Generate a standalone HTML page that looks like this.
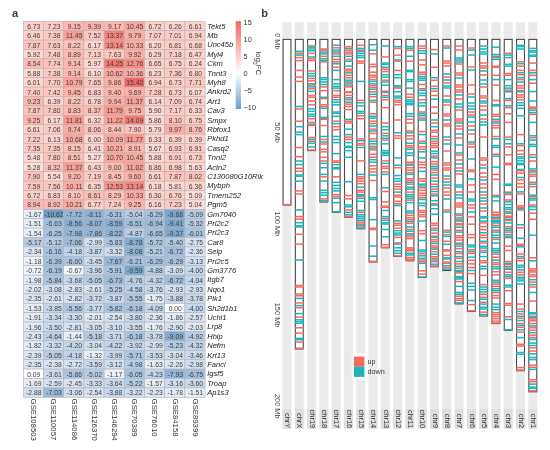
<!DOCTYPE html><html><head><meta charset="utf-8"><style>html,body{margin:0;padding:0;background:#fff;width:550px;height:450px;overflow:hidden}svg{display:block;font-family:"Liberation Sans",sans-serif;filter:blur(0.35px)}</style></head><body>
<svg width="550" height="450" viewBox="0 0 550 450">
<rect width="550" height="450" fill="#fff"/>
<text x="12.0" y="17.2" font-size="11.2" font-weight="bold" fill="#3a3a3a">a</text>
<text x="261.2" y="17.2" font-size="11" font-weight="bold" fill="#3a3a3a">b</text>
<g stroke="#b4b2bc" stroke-width="0.6">
<rect x="23.30" y="21.30" width="20.20" height="9.40" fill="#ffcfc8"/>
<rect x="43.50" y="21.30" width="20.20" height="9.40" fill="#ffcac2"/>
<rect x="63.70" y="21.30" width="20.20" height="9.40" fill="#ffb6ac"/>
<rect x="83.90" y="21.30" width="20.20" height="9.40" fill="#ffb3a9"/>
<rect x="104.10" y="21.30" width="20.20" height="9.40" fill="#ffb6ac"/>
<rect x="124.30" y="21.30" width="20.20" height="9.40" fill="#fda79c"/>
<rect x="144.50" y="21.30" width="20.20" height="9.40" fill="#ffcfc8"/>
<rect x="164.70" y="21.30" width="20.20" height="9.40" fill="#ffd3cd"/>
<rect x="184.90" y="21.30" width="20.20" height="9.40" fill="#ffd0c9"/>
<rect x="23.30" y="30.70" width="20.20" height="9.40" fill="#ffd1cb"/>
<rect x="43.50" y="30.70" width="20.20" height="9.40" fill="#ffc8c0"/>
<rect x="63.70" y="30.70" width="20.20" height="9.40" fill="#fb9c90"/>
<rect x="83.90" y="30.70" width="20.20" height="9.40" fill="#ffc7bf"/>
<rect x="104.10" y="30.70" width="20.20" height="9.40" fill="#f58478"/>
<rect x="124.30" y="30.70" width="20.20" height="9.40" fill="#feafa4"/>
<rect x="144.50" y="30.70" width="20.20" height="9.40" fill="#ffcbc4"/>
<rect x="164.70" y="30.70" width="20.20" height="9.40" fill="#ffccc5"/>
<rect x="184.90" y="30.70" width="20.20" height="9.40" fill="#ffcdc5"/>
<rect x="23.30" y="40.10" width="20.20" height="9.40" fill="#ffc3bb"/>
<rect x="43.50" y="40.10" width="20.20" height="9.40" fill="#ffc6be"/>
<rect x="63.70" y="40.10" width="20.20" height="9.40" fill="#ffc0b7"/>
<rect x="83.90" y="40.10" width="20.20" height="9.40" fill="#ffd4ce"/>
<rect x="104.10" y="40.10" width="20.20" height="9.40" fill="#f6877b"/>
<rect x="124.30" y="40.10" width="20.20" height="9.40" fill="#fda99e"/>
<rect x="144.50" y="40.10" width="20.20" height="9.40" fill="#ffd4cd"/>
<rect x="164.70" y="40.10" width="20.20" height="9.40" fill="#ffcec7"/>
<rect x="184.90" y="40.10" width="20.20" height="9.40" fill="#ffcfc8"/>
<rect x="23.30" y="49.50" width="20.20" height="9.40" fill="#ffd6d0"/>
<rect x="43.50" y="49.50" width="20.20" height="9.40" fill="#ffc7bf"/>
<rect x="63.70" y="49.50" width="20.20" height="9.40" fill="#ffb9af"/>
<rect x="83.90" y="49.50" width="20.20" height="9.40" fill="#ffcbc3"/>
<rect x="104.10" y="49.50" width="20.20" height="9.40" fill="#ffc6be"/>
<rect x="124.30" y="49.50" width="20.20" height="9.40" fill="#feada3"/>
<rect x="144.50" y="49.50" width="20.20" height="9.40" fill="#ffd3cc"/>
<rect x="164.70" y="49.50" width="20.20" height="9.40" fill="#ffcac3"/>
<rect x="184.90" y="49.50" width="20.20" height="9.40" fill="#ffd1ca"/>
<rect x="23.30" y="58.90" width="20.20" height="9.40" fill="#ffbcb3"/>
<rect x="43.50" y="58.90" width="20.20" height="9.40" fill="#ffc5bc"/>
<rect x="63.70" y="58.90" width="20.20" height="9.40" fill="#ffb6ac"/>
<rect x="83.90" y="58.90" width="20.20" height="9.40" fill="#ffd6d0"/>
<rect x="104.10" y="58.90" width="20.20" height="9.40" fill="#f2786d"/>
<rect x="124.30" y="58.90" width="20.20" height="9.40" fill="#f78c80"/>
<rect x="144.50" y="58.90" width="20.20" height="9.40" fill="#ffcfc8"/>
<rect x="164.70" y="58.90" width="20.20" height="9.40" fill="#ffcfc7"/>
<rect x="184.90" y="58.90" width="20.20" height="9.40" fill="#ffd3cd"/>
<rect x="23.30" y="68.30" width="20.20" height="9.40" fill="#ffd7d1"/>
<rect x="43.50" y="68.30" width="20.20" height="9.40" fill="#ffc8c0"/>
<rect x="63.70" y="68.30" width="20.20" height="9.40" fill="#ffb6ac"/>
<rect x="83.90" y="68.30" width="20.20" height="9.40" fill="#ffd5ce"/>
<rect x="104.10" y="68.30" width="20.20" height="9.40" fill="#fda59a"/>
<rect x="124.30" y="68.30" width="20.20" height="9.40" fill="#fda89e"/>
<rect x="144.50" y="68.30" width="20.20" height="9.40" fill="#ffd4cd"/>
<rect x="164.70" y="68.30" width="20.20" height="9.40" fill="#ffc9c1"/>
<rect x="184.90" y="68.30" width="20.20" height="9.40" fill="#ffcec7"/>
<rect x="23.30" y="77.70" width="20.20" height="9.40" fill="#ffd6cf"/>
<rect x="43.50" y="77.70" width="20.20" height="9.40" fill="#ffc5bd"/>
<rect x="63.70" y="77.70" width="20.20" height="9.40" fill="#fca398"/>
<rect x="83.90" y="77.70" width="20.20" height="9.40" fill="#ffc6bd"/>
<rect x="104.10" y="77.70" width="20.20" height="9.40" fill="#feaea4"/>
<rect x="124.30" y="77.70" width="20.20" height="9.40" fill="#ee685e"/>
<rect x="144.50" y="77.70" width="20.20" height="9.40" fill="#ffcdc5"/>
<rect x="164.70" y="77.70" width="20.20" height="9.40" fill="#ffcfc8"/>
<rect x="184.90" y="77.70" width="20.20" height="9.40" fill="#ffc5bd"/>
<rect x="23.30" y="87.10" width="20.20" height="9.40" fill="#ffc8c0"/>
<rect x="43.50" y="87.10" width="20.20" height="9.40" fill="#ffc8c0"/>
<rect x="63.70" y="87.10" width="20.20" height="9.40" fill="#ffb3a9"/>
<rect x="83.90" y="87.10" width="20.20" height="9.40" fill="#ffcec7"/>
<rect x="104.10" y="87.10" width="20.20" height="9.40" fill="#ffb3a9"/>
<rect x="124.30" y="87.10" width="20.20" height="9.40" fill="#feb0a6"/>
<rect x="144.50" y="87.10" width="20.20" height="9.40" fill="#ffc9c2"/>
<rect x="164.70" y="87.10" width="20.20" height="9.40" fill="#ffcfc8"/>
<rect x="184.90" y="87.10" width="20.20" height="9.40" fill="#ffd5cf"/>
<rect x="23.30" y="96.50" width="20.20" height="9.40" fill="#ffb5ab"/>
<rect x="43.50" y="96.50" width="20.20" height="9.40" fill="#ffd2cb"/>
<rect x="63.70" y="96.50" width="20.20" height="9.40" fill="#ffc0b7"/>
<rect x="83.90" y="96.50" width="20.20" height="9.40" fill="#ffcec7"/>
<rect x="104.10" y="96.50" width="20.20" height="9.40" fill="#feada3"/>
<rect x="124.30" y="96.50" width="20.20" height="9.40" fill="#fb9d91"/>
<rect x="144.50" y="96.50" width="20.20" height="9.40" fill="#ffd4ce"/>
<rect x="164.70" y="96.50" width="20.20" height="9.40" fill="#ffcbc4"/>
<rect x="184.90" y="96.50" width="20.20" height="9.40" fill="#ffcfc7"/>
<rect x="23.30" y="105.90" width="20.20" height="9.40" fill="#ffc3bb"/>
<rect x="43.50" y="105.90" width="20.20" height="9.40" fill="#ffc4bc"/>
<rect x="63.70" y="105.90" width="20.20" height="9.40" fill="#ffb9b0"/>
<rect x="83.90" y="105.90" width="20.20" height="9.40" fill="#ffbeb5"/>
<rect x="104.10" y="105.90" width="20.20" height="9.40" fill="#fa988c"/>
<rect x="124.30" y="105.90" width="20.20" height="9.40" fill="#feafa5"/>
<rect x="144.50" y="105.90" width="20.20" height="9.40" fill="#ffd7d0"/>
<rect x="164.70" y="105.90" width="20.20" height="9.40" fill="#ffcac3"/>
<rect x="184.90" y="105.90" width="20.20" height="9.40" fill="#ffd3cc"/>
<rect x="23.30" y="115.30" width="20.20" height="9.40" fill="#ffb5ab"/>
<rect x="43.50" y="115.30" width="20.20" height="9.40" fill="#ffd4ce"/>
<rect x="63.70" y="115.30" width="20.20" height="9.40" fill="#fa978c"/>
<rect x="83.90" y="115.30" width="20.20" height="9.40" fill="#ffd3cc"/>
<rect x="104.10" y="115.30" width="20.20" height="9.40" fill="#fb9e93"/>
<rect x="124.30" y="115.30" width="20.20" height="9.40" fill="#f37a6f"/>
<rect x="144.50" y="115.30" width="20.20" height="9.40" fill="#ffd7d1"/>
<rect x="164.70" y="115.30" width="20.20" height="9.40" fill="#ffc1b8"/>
<rect x="184.90" y="115.30" width="20.20" height="9.40" fill="#ffcfc7"/>
<rect x="23.30" y="124.70" width="20.20" height="9.40" fill="#ffd0c9"/>
<rect x="43.50" y="124.70" width="20.20" height="9.40" fill="#ffccc4"/>
<rect x="63.70" y="124.70" width="20.20" height="9.40" fill="#feafa5"/>
<rect x="83.90" y="124.70" width="20.20" height="9.40" fill="#ffc1b9"/>
<rect x="104.10" y="124.70" width="20.20" height="9.40" fill="#ffbdb4"/>
<rect x="124.30" y="124.70" width="20.20" height="9.40" fill="#ffc3bb"/>
<rect x="144.50" y="124.70" width="20.20" height="9.40" fill="#ffd8d2"/>
<rect x="164.70" y="124.70" width="20.20" height="9.40" fill="#feada2"/>
<rect x="184.90" y="124.70" width="20.20" height="9.40" fill="#ffbab1"/>
<rect x="23.30" y="134.10" width="20.20" height="9.40" fill="#ffcac2"/>
<rect x="43.50" y="134.10" width="20.20" height="9.40" fill="#ffd4ce"/>
<rect x="63.70" y="134.10" width="20.20" height="9.40" fill="#fca59a"/>
<rect x="83.90" y="134.10" width="20.20" height="9.40" fill="#ffd6cf"/>
<rect x="104.10" y="134.10" width="20.20" height="9.40" fill="#fdaba1"/>
<rect x="124.30" y="134.10" width="20.20" height="9.40" fill="#fa988c"/>
<rect x="144.50" y="134.10" width="20.20" height="9.40" fill="#ffd3cc"/>
<rect x="164.70" y="134.10" width="20.20" height="9.40" fill="#ffd2cb"/>
<rect x="184.90" y="134.10" width="20.20" height="9.40" fill="#ffd2cb"/>
<rect x="23.30" y="143.50" width="20.20" height="9.40" fill="#ffc9c1"/>
<rect x="43.50" y="143.50" width="20.20" height="9.40" fill="#ffc9c1"/>
<rect x="63.70" y="143.50" width="20.20" height="9.40" fill="#ffc0b8"/>
<rect x="83.90" y="143.50" width="20.20" height="9.40" fill="#ffd2cb"/>
<rect x="104.10" y="143.50" width="20.20" height="9.40" fill="#fdaa9f"/>
<rect x="124.30" y="143.50" width="20.20" height="9.40" fill="#ffb8af"/>
<rect x="144.50" y="143.50" width="20.20" height="9.40" fill="#ffd9d3"/>
<rect x="164.70" y="143.50" width="20.20" height="9.40" fill="#ffcdc5"/>
<rect x="184.90" y="143.50" width="20.20" height="9.40" fill="#ffcdc6"/>
<rect x="23.30" y="152.90" width="20.20" height="9.40" fill="#ffdad5"/>
<rect x="43.50" y="152.90" width="20.20" height="9.40" fill="#ffc4bc"/>
<rect x="63.70" y="152.90" width="20.20" height="9.40" fill="#ffbdb4"/>
<rect x="83.90" y="152.90" width="20.20" height="9.40" fill="#ffdcd7"/>
<rect x="104.10" y="152.90" width="20.20" height="9.40" fill="#fca599"/>
<rect x="124.30" y="152.90" width="20.20" height="9.40" fill="#fda79c"/>
<rect x="144.50" y="152.90" width="20.20" height="9.40" fill="#ffd7d1"/>
<rect x="164.70" y="152.90" width="20.20" height="9.40" fill="#ffcdc6"/>
<rect x="184.90" y="152.90" width="20.20" height="9.40" fill="#ffcfc8"/>
<rect x="23.30" y="162.30" width="20.20" height="9.40" fill="#ffdcd7"/>
<rect x="43.50" y="162.30" width="20.20" height="9.40" fill="#ffbfb6"/>
<rect x="63.70" y="162.30" width="20.20" height="9.40" fill="#fb9d91"/>
<rect x="83.90" y="162.30" width="20.20" height="9.40" fill="#ffd2cb"/>
<rect x="104.10" y="162.30" width="20.20" height="9.40" fill="#ffb7ae"/>
<rect x="124.30" y="162.30" width="20.20" height="9.40" fill="#fca196"/>
<rect x="144.50" y="162.30" width="20.20" height="9.40" fill="#ffcdc6"/>
<rect x="164.70" y="162.30" width="20.20" height="9.40" fill="#ffccc5"/>
<rect x="184.90" y="162.30" width="20.20" height="9.40" fill="#ffd9d3"/>
<rect x="23.30" y="171.70" width="20.20" height="9.40" fill="#ffc3bb"/>
<rect x="43.50" y="171.70" width="20.20" height="9.40" fill="#ffdad4"/>
<rect x="63.70" y="171.70" width="20.20" height="9.40" fill="#ffb5ab"/>
<rect x="83.90" y="171.70" width="20.20" height="9.40" fill="#ffcac3"/>
<rect x="104.10" y="171.70" width="20.20" height="9.40" fill="#ffbdb4"/>
<rect x="124.30" y="171.70" width="20.20" height="9.40" fill="#feb1a7"/>
<rect x="144.50" y="171.70" width="20.20" height="9.40" fill="#ffd0c9"/>
<rect x="164.70" y="171.70" width="20.20" height="9.40" fill="#ffc3bb"/>
<rect x="184.90" y="171.70" width="20.20" height="9.40" fill="#ffc2b9"/>
<rect x="23.30" y="181.10" width="20.20" height="9.40" fill="#ffc6be"/>
<rect x="43.50" y="181.10" width="20.20" height="9.40" fill="#ffc7be"/>
<rect x="63.70" y="181.10" width="20.20" height="9.40" fill="#fdaba1"/>
<rect x="83.90" y="181.10" width="20.20" height="9.40" fill="#ffd2cc"/>
<rect x="104.10" y="181.10" width="20.20" height="9.40" fill="#f88f83"/>
<rect x="124.30" y="181.10" width="20.20" height="9.40" fill="#f6877b"/>
<rect x="144.50" y="181.10" width="20.20" height="9.40" fill="#ffd4ce"/>
<rect x="164.70" y="181.10" width="20.20" height="9.40" fill="#ffd7d1"/>
<rect x="184.90" y="181.10" width="20.20" height="9.40" fill="#ffd2cc"/>
<rect x="23.30" y="190.50" width="20.20" height="9.40" fill="#ffcfc8"/>
<rect x="43.50" y="190.50" width="20.20" height="9.40" fill="#ffcec7"/>
<rect x="63.70" y="190.50" width="20.20" height="9.40" fill="#ffc1b8"/>
<rect x="83.90" y="190.50" width="20.20" height="9.40" fill="#ffbcb2"/>
<rect x="104.10" y="190.50" width="20.20" height="9.40" fill="#ffbfb6"/>
<rect x="124.30" y="190.50" width="20.20" height="9.40" fill="#fda99e"/>
<rect x="144.50" y="190.50" width="20.20" height="9.40" fill="#ffd3cc"/>
<rect x="164.70" y="190.50" width="20.20" height="9.40" fill="#ffcec7"/>
<rect x="184.90" y="190.50" width="20.20" height="9.40" fill="#ffded9"/>
<rect x="23.30" y="199.90" width="20.20" height="9.40" fill="#ffb8af"/>
<rect x="43.50" y="199.90" width="20.20" height="9.40" fill="#ffb8af"/>
<rect x="63.70" y="199.90" width="20.20" height="9.40" fill="#fdaa9f"/>
<rect x="83.90" y="199.90" width="20.20" height="9.40" fill="#ffcec7"/>
<rect x="104.10" y="199.90" width="20.20" height="9.40" fill="#ffcac2"/>
<rect x="124.30" y="199.90" width="20.20" height="9.40" fill="#ffb5ab"/>
<rect x="144.50" y="199.90" width="20.20" height="9.40" fill="#ffd4ce"/>
<rect x="164.70" y="199.90" width="20.20" height="9.40" fill="#ffcac2"/>
<rect x="184.90" y="199.90" width="20.20" height="9.40" fill="#ffded9"/>
<rect x="23.30" y="209.30" width="20.20" height="9.40" fill="#e4ecf5"/>
<rect x="43.50" y="209.30" width="20.20" height="9.40" fill="#6c9ec8"/>
<rect x="63.70" y="209.30" width="20.20" height="9.40" fill="#93b5d6"/>
<rect x="83.90" y="209.30" width="20.20" height="9.40" fill="#8eb2d4"/>
<rect x="104.10" y="209.30" width="20.20" height="9.40" fill="#a5c1dd"/>
<rect x="124.30" y="209.30" width="20.20" height="9.40" fill="#b6cce3"/>
<rect x="144.50" y="209.30" width="20.20" height="9.40" fill="#a6c1dd"/>
<rect x="164.70" y="209.30" width="20.20" height="9.40" fill="#79a5cc"/>
<rect x="184.90" y="209.30" width="20.20" height="9.40" fill="#b5cce3"/>
<rect x="23.30" y="218.70" width="20.20" height="9.40" fill="#e6eef5"/>
<rect x="43.50" y="218.70" width="20.20" height="9.40" fill="#a1bedb"/>
<rect x="63.70" y="218.70" width="20.20" height="9.40" fill="#88aed2"/>
<rect x="83.90" y="218.70" width="20.20" height="9.40" fill="#8eb2d4"/>
<rect x="104.10" y="218.70" width="20.20" height="9.40" fill="#87aed2"/>
<rect x="124.30" y="218.70" width="20.20" height="9.40" fill="#a3bfdc"/>
<rect x="144.50" y="218.70" width="20.20" height="9.40" fill="#9dbcd9"/>
<rect x="164.70" y="218.70" width="20.20" height="9.40" fill="#7da8ce"/>
<rect x="184.90" y="218.70" width="20.20" height="9.40" fill="#b2cae1"/>
<rect x="23.30" y="228.10" width="20.20" height="9.40" fill="#e6edf5"/>
<rect x="43.50" y="228.10" width="20.20" height="9.40" fill="#a6c2dd"/>
<rect x="63.70" y="228.10" width="20.20" height="9.40" fill="#90b3d4"/>
<rect x="83.90" y="228.10" width="20.20" height="9.40" fill="#91b4d5"/>
<rect x="104.10" y="228.10" width="20.20" height="9.40" fill="#8cb1d3"/>
<rect x="124.30" y="228.10" width="20.20" height="9.40" fill="#b8cee4"/>
<rect x="144.50" y="228.10" width="20.20" height="9.40" fill="#a1bedb"/>
<rect x="164.70" y="228.10" width="20.20" height="9.40" fill="#7da8ce"/>
<rect x="184.90" y="228.10" width="20.20" height="9.40" fill="#a9c4de"/>
<rect x="23.30" y="237.50" width="20.20" height="9.40" fill="#b4cbe2"/>
<rect x="43.50" y="237.50" width="20.20" height="9.40" fill="#b5cce2"/>
<rect x="63.70" y="237.50" width="20.20" height="9.40" fill="#9cbbd9"/>
<rect x="83.90" y="237.50" width="20.20" height="9.40" fill="#d2dfed"/>
<rect x="104.10" y="237.50" width="20.20" height="9.40" fill="#acc5df"/>
<rect x="124.30" y="237.50" width="20.20" height="9.40" fill="#85add1"/>
<rect x="144.50" y="237.50" width="20.20" height="9.40" fill="#adc6df"/>
<rect x="164.70" y="237.50" width="20.20" height="9.40" fill="#b1c9e1"/>
<rect x="184.90" y="237.50" width="20.20" height="9.40" fill="#d5e1ef"/>
<rect x="23.30" y="246.90" width="20.20" height="9.40" fill="#dbe5f1"/>
<rect x="43.50" y="246.90" width="20.20" height="9.40" fill="#a7c2dd"/>
<rect x="63.70" y="246.90" width="20.20" height="9.40" fill="#c1d4e7"/>
<rect x="83.90" y="246.90" width="20.20" height="9.40" fill="#c6d7e9"/>
<rect x="104.10" y="246.90" width="20.20" height="9.40" fill="#cddcec"/>
<rect x="124.30" y="246.90" width="20.20" height="9.40" fill="#8eb2d4"/>
<rect x="144.50" y="246.90" width="20.20" height="9.40" fill="#b4cbe2"/>
<rect x="164.70" y="246.90" width="20.20" height="9.40" fill="#a0bedb"/>
<rect x="184.90" y="246.90" width="20.20" height="9.40" fill="#dae5f1"/>
<rect x="23.30" y="256.30" width="20.20" height="9.40" fill="#ebf1f7"/>
<rect x="43.50" y="256.30" width="20.20" height="9.40" fill="#a4c1dc"/>
<rect x="63.70" y="256.30" width="20.20" height="9.40" fill="#a9c4de"/>
<rect x="83.90" y="256.30" width="20.20" height="9.40" fill="#cbdbeb"/>
<rect x="104.10" y="256.30" width="20.20" height="9.40" fill="#94b6d6"/>
<rect x="124.30" y="256.30" width="20.20" height="9.40" fill="#a7c2dd"/>
<rect x="144.50" y="256.30" width="20.20" height="9.40" fill="#a6c1dd"/>
<rect x="164.70" y="256.30" width="20.20" height="9.40" fill="#a6c1dd"/>
<rect x="184.90" y="256.30" width="20.20" height="9.40" fill="#d0deed"/>
<rect x="23.30" y="265.70" width="20.20" height="9.40" fill="#f2f6fa"/>
<rect x="43.50" y="265.70" width="20.20" height="9.40" fill="#a7c2dd"/>
<rect x="63.70" y="265.70" width="20.20" height="9.40" fill="#f3f7fa"/>
<rect x="83.90" y="265.70" width="20.20" height="9.40" fill="#c4d6e8"/>
<rect x="104.10" y="265.70" width="20.20" height="9.40" fill="#abc5df"/>
<rect x="124.30" y="265.70" width="20.20" height="9.40" fill="#7aa6cd"/>
<rect x="144.50" y="265.70" width="20.20" height="9.40" fill="#b8cee4"/>
<rect x="164.70" y="265.70" width="20.20" height="9.40" fill="#d0deed"/>
<rect x="184.90" y="265.70" width="20.20" height="9.40" fill="#c4d6e8"/>
<rect x="23.30" y="275.10" width="20.20" height="9.40" fill="#e0e9f3"/>
<rect x="43.50" y="275.10" width="20.20" height="9.40" fill="#acc5df"/>
<rect x="63.70" y="275.10" width="20.20" height="9.40" fill="#c8d9ea"/>
<rect x="83.90" y="275.10" width="20.20" height="9.40" fill="#b6cce3"/>
<rect x="104.10" y="275.10" width="20.20" height="9.40" fill="#a0beda"/>
<rect x="124.30" y="275.10" width="20.20" height="9.40" fill="#bacfe4"/>
<rect x="144.50" y="275.10" width="20.20" height="9.40" fill="#c0d3e6"/>
<rect x="164.70" y="275.10" width="20.20" height="9.40" fill="#a0bedb"/>
<rect x="184.90" y="275.10" width="20.20" height="9.40" fill="#c3d5e8"/>
<rect x="23.30" y="284.50" width="20.20" height="9.40" fill="#dfe8f3"/>
<rect x="43.50" y="284.50" width="20.20" height="9.40" fill="#d0deed"/>
<rect x="63.70" y="284.50" width="20.20" height="9.40" fill="#d4e1ee"/>
<rect x="83.90" y="284.50" width="20.20" height="9.40" fill="#d7e3ef"/>
<rect x="104.10" y="284.50" width="20.20" height="9.40" fill="#b3cae2"/>
<rect x="124.30" y="284.50" width="20.20" height="9.40" fill="#bcd0e5"/>
<rect x="144.50" y="284.50" width="20.20" height="9.40" fill="#c7d8e9"/>
<rect x="164.70" y="284.50" width="20.20" height="9.40" fill="#d2e0ee"/>
<rect x="184.90" y="284.50" width="20.20" height="9.40" fill="#d2e0ee"/>
<rect x="23.30" y="293.90" width="20.20" height="9.40" fill="#dae5f1"/>
<rect x="43.50" y="293.90" width="20.20" height="9.40" fill="#d7e3ef"/>
<rect x="63.70" y="293.90" width="20.20" height="9.40" fill="#d4e1ee"/>
<rect x="83.90" y="293.90" width="20.20" height="9.40" fill="#c8d8ea"/>
<rect x="104.10" y="293.90" width="20.20" height="9.40" fill="#c6d7e9"/>
<rect x="124.30" y="293.90" width="20.20" height="9.40" fill="#afc8e0"/>
<rect x="144.50" y="293.90" width="20.20" height="9.40" fill="#e3ebf4"/>
<rect x="164.70" y="293.90" width="20.20" height="9.40" fill="#c5d7e9"/>
<rect x="184.90" y="293.90" width="20.20" height="9.40" fill="#c7d8e9"/>
<rect x="23.30" y="303.30" width="20.20" height="9.40" fill="#e6edf5"/>
<rect x="43.50" y="303.30" width="20.20" height="9.40" fill="#c6d7e9"/>
<rect x="63.70" y="303.30" width="20.20" height="9.40" fill="#afc8e0"/>
<rect x="83.90" y="303.30" width="20.20" height="9.40" fill="#c7d8e9"/>
<rect x="104.10" y="303.30" width="20.20" height="9.40" fill="#acc5df"/>
<rect x="124.30" y="303.30" width="20.20" height="9.40" fill="#a7c2dd"/>
<rect x="144.50" y="303.30" width="20.20" height="9.40" fill="#c3d5e8"/>
<rect x="164.70" y="303.30" width="20.20" height="9.40" fill="#ffffff"/>
<rect x="184.90" y="303.30" width="20.20" height="9.40" fill="#c4d6e8"/>
<rect x="23.30" y="312.70" width="20.20" height="9.40" fill="#e1eaf3"/>
<rect x="43.50" y="312.70" width="20.20" height="9.40" fill="#cddcec"/>
<rect x="63.70" y="312.70" width="20.20" height="9.40" fill="#cddcec"/>
<rect x="83.90" y="312.70" width="20.20" height="9.40" fill="#dfe9f3"/>
<rect x="104.10" y="312.70" width="20.20" height="9.40" fill="#d8e3f0"/>
<rect x="124.30" y="312.70" width="20.20" height="9.40" fill="#c7d7e9"/>
<rect x="144.50" y="312.70" width="20.20" height="9.40" fill="#dae5f1"/>
<rect x="164.70" y="312.70" width="20.20" height="9.40" fill="#e1eaf4"/>
<rect x="184.90" y="312.70" width="20.20" height="9.40" fill="#d7e3f0"/>
<rect x="23.30" y="322.10" width="20.20" height="9.40" fill="#e0e9f3"/>
<rect x="43.50" y="322.10" width="20.20" height="9.40" fill="#cbdaeb"/>
<rect x="63.70" y="322.10" width="20.20" height="9.40" fill="#d4e1ee"/>
<rect x="83.90" y="322.10" width="20.20" height="9.40" fill="#d1deed"/>
<rect x="104.10" y="322.10" width="20.20" height="9.40" fill="#d0deed"/>
<rect x="124.30" y="322.10" width="20.20" height="9.40" fill="#cadaea"/>
<rect x="144.50" y="322.10" width="20.20" height="9.40" fill="#e3ebf4"/>
<rect x="164.70" y="322.10" width="20.20" height="9.40" fill="#d3e0ee"/>
<rect x="184.90" y="322.10" width="20.20" height="9.40" fill="#dfe8f3"/>
<rect x="23.30" y="331.50" width="20.20" height="9.40" fill="#d9e4f0"/>
<rect x="43.50" y="331.50" width="20.20" height="9.40" fill="#bbd0e5"/>
<rect x="63.70" y="331.50" width="20.20" height="9.40" fill="#e7eef6"/>
<rect x="83.90" y="331.50" width="20.20" height="9.40" fill="#b4cbe2"/>
<rect x="104.10" y="331.50" width="20.20" height="9.40" fill="#c8d8ea"/>
<rect x="124.30" y="331.50" width="20.20" height="9.40" fill="#a7c2dd"/>
<rect x="144.50" y="331.50" width="20.20" height="9.40" fill="#c7d8e9"/>
<rect x="164.70" y="331.50" width="20.20" height="9.40" fill="#81aacf"/>
<rect x="184.90" y="331.50" width="20.20" height="9.40" fill="#b8cde3"/>
<rect x="23.30" y="340.90" width="20.20" height="9.40" fill="#e2eaf4"/>
<rect x="43.50" y="340.90" width="20.20" height="9.40" fill="#cddcec"/>
<rect x="63.70" y="340.90" width="20.20" height="9.40" fill="#c1d4e7"/>
<rect x="83.90" y="340.90" width="20.20" height="9.40" fill="#d1dfed"/>
<rect x="104.10" y="340.90" width="20.20" height="9.40" fill="#c1d4e7"/>
<rect x="124.30" y="340.90" width="20.20" height="9.40" fill="#c5d6e9"/>
<rect x="144.50" y="340.90" width="20.20" height="9.40" fill="#d2dfed"/>
<rect x="164.70" y="340.90" width="20.20" height="9.40" fill="#b4cbe2"/>
<rect x="184.90" y="340.90" width="20.20" height="9.40" fill="#c0d3e6"/>
<rect x="23.30" y="350.30" width="20.20" height="9.40" fill="#dae5f1"/>
<rect x="43.50" y="350.30" width="20.20" height="9.40" fill="#b6cce3"/>
<rect x="63.70" y="350.30" width="20.20" height="9.40" fill="#c1d4e7"/>
<rect x="83.90" y="350.30" width="20.20" height="9.40" fill="#e9f0f7"/>
<rect x="104.10" y="350.30" width="20.20" height="9.40" fill="#c4d6e8"/>
<rect x="124.30" y="350.30" width="20.20" height="9.40" fill="#adc6e0"/>
<rect x="144.50" y="350.30" width="20.20" height="9.40" fill="#cadaeb"/>
<rect x="164.70" y="350.30" width="20.20" height="9.40" fill="#d1dfed"/>
<rect x="184.90" y="350.30" width="20.20" height="9.40" fill="#cbdbeb"/>
<rect x="23.30" y="359.70" width="20.20" height="9.40" fill="#dae5f1"/>
<rect x="43.50" y="359.70" width="20.20" height="9.40" fill="#dae5f1"/>
<rect x="63.70" y="359.70" width="20.20" height="9.40" fill="#d5e2ef"/>
<rect x="83.90" y="359.70" width="20.20" height="9.40" fill="#c9d9ea"/>
<rect x="104.10" y="359.70" width="20.20" height="9.40" fill="#d0deed"/>
<rect x="124.30" y="359.70" width="20.20" height="9.40" fill="#b7cde3"/>
<rect x="144.50" y="359.70" width="20.20" height="9.40" fill="#e5ecf5"/>
<rect x="164.70" y="359.70" width="20.20" height="9.40" fill="#dce6f1"/>
<rect x="184.90" y="359.70" width="20.20" height="9.40" fill="#d2dfed"/>
<rect x="23.30" y="369.10" width="20.20" height="9.40" fill="#ffffff"/>
<rect x="43.50" y="369.10" width="20.20" height="9.40" fill="#c9d9ea"/>
<rect x="63.70" y="369.10" width="20.20" height="9.40" fill="#abc5df"/>
<rect x="83.90" y="369.10" width="20.20" height="9.40" fill="#b6cce3"/>
<rect x="104.10" y="369.10" width="20.20" height="9.40" fill="#ebf1f7"/>
<rect x="124.30" y="369.10" width="20.20" height="9.40" fill="#a9c3de"/>
<rect x="144.50" y="369.10" width="20.20" height="9.40" fill="#c1d4e7"/>
<rect x="164.70" y="369.10" width="20.20" height="9.40" fill="#90b4d5"/>
<rect x="184.90" y="369.10" width="20.20" height="9.40" fill="#a0bdda"/>
<rect x="23.30" y="378.50" width="20.20" height="9.40" fill="#e4ecf4"/>
<rect x="43.50" y="378.50" width="20.20" height="9.40" fill="#d7e3f0"/>
<rect x="63.70" y="378.50" width="20.20" height="9.40" fill="#d9e4f0"/>
<rect x="83.90" y="378.50" width="20.20" height="9.40" fill="#cddcec"/>
<rect x="104.10" y="378.50" width="20.20" height="9.40" fill="#c9d9ea"/>
<rect x="124.30" y="378.50" width="20.20" height="9.40" fill="#b4cbe2"/>
<rect x="144.50" y="378.50" width="20.20" height="9.40" fill="#e6edf5"/>
<rect x="164.70" y="378.50" width="20.20" height="9.40" fill="#cfdded"/>
<rect x="184.90" y="378.50" width="20.20" height="9.40" fill="#c9d9ea"/>
<rect x="23.30" y="387.90" width="20.20" height="9.40" fill="#d3e0ee"/>
<rect x="43.50" y="387.90" width="20.20" height="9.40" fill="#9cbbd9"/>
<rect x="63.70" y="387.90" width="20.20" height="9.40" fill="#d1deed"/>
<rect x="83.90" y="387.90" width="20.20" height="9.40" fill="#d8e3f0"/>
<rect x="104.10" y="387.90" width="20.20" height="9.40" fill="#c5d7e9"/>
<rect x="124.30" y="387.90" width="20.20" height="9.40" fill="#ceddec"/>
<rect x="144.50" y="387.90" width="20.20" height="9.40" fill="#dce6f1"/>
<rect x="164.70" y="387.90" width="20.20" height="9.40" fill="#e3ebf4"/>
<rect x="184.90" y="387.90" width="20.20" height="9.40" fill="#e6eef5"/>
</g>
<g font-size="6.75" fill="#404040" text-anchor="middle">
<text x="33.80" y="28.70">6.73</text>
<text x="54.00" y="28.70">7.23</text>
<text x="74.20" y="28.70">9.15</text>
<text x="94.40" y="28.70">9.39</text>
<text x="114.60" y="28.70">9.17</text>
<text x="134.80" y="28.70">10.45</text>
<text x="155.00" y="28.70">6.72</text>
<text x="175.20" y="28.70">6.26</text>
<text x="195.40" y="28.70">6.61</text>
<text x="33.80" y="38.10">6.46</text>
<text x="54.00" y="38.10">7.38</text>
<text x="74.20" y="38.10">11.45</text>
<text x="94.40" y="38.10">7.52</text>
<text x="114.60" y="38.10">13.37</text>
<text x="134.80" y="38.10">9.79</text>
<text x="155.00" y="38.10">7.07</text>
<text x="175.20" y="38.10">7.01</text>
<text x="195.40" y="38.10">6.94</text>
<text x="33.80" y="47.50">7.87</text>
<text x="54.00" y="47.50">7.63</text>
<text x="74.20" y="47.50">8.22</text>
<text x="94.40" y="47.50">6.17</text>
<text x="114.60" y="47.50">13.14</text>
<text x="134.80" y="47.50">10.33</text>
<text x="155.00" y="47.50">6.20</text>
<text x="175.20" y="47.50">6.81</text>
<text x="195.40" y="47.50">6.68</text>
<text x="33.80" y="56.90">5.92</text>
<text x="54.00" y="56.90">7.48</text>
<text x="74.20" y="56.90">8.89</text>
<text x="94.40" y="56.90">7.13</text>
<text x="114.60" y="56.90">7.63</text>
<text x="134.80" y="56.90">9.92</text>
<text x="155.00" y="56.90">6.29</text>
<text x="175.20" y="56.90">7.18</text>
<text x="195.40" y="56.90">6.47</text>
<text x="33.80" y="66.30">8.54</text>
<text x="54.00" y="66.30">7.74</text>
<text x="74.20" y="66.30">9.14</text>
<text x="94.40" y="66.30">5.97</text>
<text x="114.60" y="66.30">14.25</text>
<text x="134.80" y="66.30">12.76</text>
<text x="155.00" y="66.30">6.65</text>
<text x="175.20" y="66.30">6.75</text>
<text x="195.40" y="66.30">6.24</text>
<text x="33.80" y="75.70">5.88</text>
<text x="54.00" y="75.70">7.38</text>
<text x="74.20" y="75.70">9.14</text>
<text x="94.40" y="75.70">6.10</text>
<text x="114.60" y="75.70">10.62</text>
<text x="134.80" y="75.70">10.36</text>
<text x="155.00" y="75.70">6.23</text>
<text x="175.20" y="75.70">7.36</text>
<text x="195.40" y="75.70">6.80</text>
<text x="33.80" y="85.10">6.01</text>
<text x="54.00" y="85.10">7.70</text>
<text x="74.20" y="85.10">10.79</text>
<text x="94.40" y="85.10">7.65</text>
<text x="114.60" y="85.10">9.86</text>
<text x="134.80" y="85.10">15.40</text>
<text x="155.00" y="85.10">6.94</text>
<text x="175.20" y="85.10">6.73</text>
<text x="195.40" y="85.10">7.71</text>
<text x="33.80" y="94.50">7.40</text>
<text x="54.00" y="94.50">7.42</text>
<text x="74.20" y="94.50">9.45</text>
<text x="94.40" y="94.50">6.83</text>
<text x="114.60" y="94.50">9.40</text>
<text x="134.80" y="94.50">9.69</text>
<text x="155.00" y="94.50">7.28</text>
<text x="175.20" y="94.50">6.73</text>
<text x="195.40" y="94.50">6.07</text>
<text x="33.80" y="103.90">9.23</text>
<text x="54.00" y="103.90">6.39</text>
<text x="74.20" y="103.90">8.22</text>
<text x="94.40" y="103.90">6.78</text>
<text x="114.60" y="103.90">9.94</text>
<text x="134.80" y="103.90">11.37</text>
<text x="155.00" y="103.90">6.14</text>
<text x="175.20" y="103.90">7.09</text>
<text x="195.40" y="103.90">6.74</text>
<text x="33.80" y="113.30">7.87</text>
<text x="54.00" y="113.30">7.80</text>
<text x="74.20" y="113.30">8.83</text>
<text x="94.40" y="113.30">8.37</text>
<text x="114.60" y="113.30">11.79</text>
<text x="134.80" y="113.30">9.75</text>
<text x="155.00" y="113.30">5.90</text>
<text x="175.20" y="113.30">7.17</text>
<text x="195.40" y="113.30">6.33</text>
<text x="33.80" y="122.70">9.25</text>
<text x="54.00" y="122.70">6.17</text>
<text x="74.20" y="122.70">11.81</text>
<text x="94.40" y="122.70">6.32</text>
<text x="114.60" y="122.70">11.22</text>
<text x="134.80" y="122.70">14.09</text>
<text x="155.00" y="122.70">5.86</text>
<text x="175.20" y="122.70">8.10</text>
<text x="195.40" y="122.70">6.75</text>
<text x="33.80" y="132.10">6.61</text>
<text x="54.00" y="132.10">7.06</text>
<text x="74.20" y="132.10">9.74</text>
<text x="94.40" y="132.10">8.06</text>
<text x="114.60" y="132.10">8.44</text>
<text x="134.80" y="132.10">7.90</text>
<text x="155.00" y="132.10">5.79</text>
<text x="175.20" y="132.10">9.97</text>
<text x="195.40" y="132.10">8.76</text>
<text x="33.80" y="141.50">7.22</text>
<text x="54.00" y="141.50">6.13</text>
<text x="74.20" y="141.50">10.68</text>
<text x="94.40" y="141.50">6.00</text>
<text x="114.60" y="141.50">10.09</text>
<text x="134.80" y="141.50">11.77</text>
<text x="155.00" y="141.50">6.33</text>
<text x="175.20" y="141.50">6.39</text>
<text x="195.40" y="141.50">6.39</text>
<text x="33.80" y="150.90">7.35</text>
<text x="54.00" y="150.90">7.35</text>
<text x="74.20" y="150.90">8.15</text>
<text x="94.40" y="150.90">6.41</text>
<text x="114.60" y="150.90">10.21</text>
<text x="134.80" y="150.90">8.91</text>
<text x="155.00" y="150.90">5.67</text>
<text x="175.20" y="150.90">6.93</text>
<text x="195.40" y="150.90">6.91</text>
<text x="33.80" y="160.30">5.48</text>
<text x="54.00" y="160.30">7.80</text>
<text x="74.20" y="160.30">8.51</text>
<text x="94.40" y="160.30">5.27</text>
<text x="114.60" y="160.30">10.70</text>
<text x="134.80" y="160.30">10.45</text>
<text x="155.00" y="160.30">5.88</text>
<text x="175.20" y="160.30">6.91</text>
<text x="195.40" y="160.30">6.73</text>
<text x="33.80" y="169.70">5.28</text>
<text x="54.00" y="169.70">8.32</text>
<text x="74.20" y="169.70">11.37</text>
<text x="94.40" y="169.70">6.43</text>
<text x="114.60" y="169.70">9.00</text>
<text x="134.80" y="169.70">11.02</text>
<text x="155.00" y="169.70">6.86</text>
<text x="175.20" y="169.70">6.98</text>
<text x="195.40" y="169.70">5.63</text>
<text x="33.80" y="179.10">7.90</text>
<text x="54.00" y="179.10">5.54</text>
<text x="74.20" y="179.10">9.20</text>
<text x="94.40" y="179.10">7.19</text>
<text x="114.60" y="179.10">8.45</text>
<text x="134.80" y="179.10">9.60</text>
<text x="155.00" y="179.10">6.61</text>
<text x="175.20" y="179.10">7.87</text>
<text x="195.40" y="179.10">8.02</text>
<text x="33.80" y="188.50">7.59</text>
<text x="54.00" y="188.50">7.56</text>
<text x="74.20" y="188.50">10.11</text>
<text x="94.40" y="188.50">6.35</text>
<text x="114.60" y="188.50">12.53</text>
<text x="134.80" y="188.50">13.14</text>
<text x="155.00" y="188.50">6.18</text>
<text x="175.20" y="188.50">5.81</text>
<text x="195.40" y="188.50">6.36</text>
<text x="33.80" y="197.90">6.72</text>
<text x="54.00" y="197.90">6.83</text>
<text x="74.20" y="197.90">8.10</text>
<text x="94.40" y="197.90">8.61</text>
<text x="114.60" y="197.90">8.29</text>
<text x="134.80" y="197.90">10.33</text>
<text x="155.00" y="197.90">6.30</text>
<text x="175.20" y="197.90">6.76</text>
<text x="195.40" y="197.90">5.09</text>
<text x="33.80" y="207.30">8.94</text>
<text x="54.00" y="207.30">8.92</text>
<text x="74.20" y="207.30">10.21</text>
<text x="94.40" y="207.30">6.77</text>
<text x="114.60" y="207.30">7.24</text>
<text x="134.80" y="207.30">9.25</text>
<text x="155.00" y="207.30">6.16</text>
<text x="175.20" y="207.30">7.23</text>
<text x="195.40" y="207.30">5.04</text>
<text x="33.80" y="216.70">-1.67</text>
<text x="54.00" y="216.70">-10.62</text>
<text x="74.20" y="216.70">-7.72</text>
<text x="94.40" y="216.70">-8.11</text>
<text x="114.60" y="216.70">-6.31</text>
<text x="134.80" y="216.70">-5.04</text>
<text x="155.00" y="216.70">-6.29</text>
<text x="175.20" y="216.70">-9.68</text>
<text x="195.40" y="216.70">-5.09</text>
<text x="33.80" y="226.10">-1.51</text>
<text x="54.00" y="226.10">-6.63</text>
<text x="74.20" y="226.10">-8.56</text>
<text x="94.40" y="226.10">-8.07</text>
<text x="114.60" y="226.10">-8.59</text>
<text x="134.80" y="226.10">-6.51</text>
<text x="155.00" y="226.10">-6.94</text>
<text x="175.20" y="226.10">-9.41</text>
<text x="195.40" y="226.10">-5.32</text>
<text x="33.80" y="235.50">-1.54</text>
<text x="54.00" y="235.50">-6.25</text>
<text x="74.20" y="235.50">-7.98</text>
<text x="94.40" y="235.50">-7.86</text>
<text x="114.60" y="235.50">-8.22</text>
<text x="134.80" y="235.50">-4.87</text>
<text x="155.00" y="235.50">-6.65</text>
<text x="175.20" y="235.50">-9.37</text>
<text x="195.40" y="235.50">-6.01</text>
<text x="33.80" y="244.90">-5.17</text>
<text x="54.00" y="244.90">-5.12</text>
<text x="74.20" y="244.90">-7.06</text>
<text x="94.40" y="244.90">-2.99</text>
<text x="114.60" y="244.90">-5.83</text>
<text x="134.80" y="244.90">-8.78</text>
<text x="155.00" y="244.90">-5.72</text>
<text x="175.20" y="244.90">-5.40</text>
<text x="195.40" y="244.90">-2.75</text>
<text x="33.80" y="254.30">-2.34</text>
<text x="54.00" y="254.30">-6.16</text>
<text x="74.20" y="254.30">-4.18</text>
<text x="94.40" y="254.30">-3.87</text>
<text x="114.60" y="254.30">-3.32</text>
<text x="134.80" y="254.30">-8.08</text>
<text x="155.00" y="254.30">-5.21</text>
<text x="175.20" y="254.30">-6.72</text>
<text x="195.40" y="254.30">-2.36</text>
<text x="33.80" y="263.70">-1.18</text>
<text x="54.00" y="263.70">-6.39</text>
<text x="74.20" y="263.70">-6.00</text>
<text x="94.40" y="263.70">-3.45</text>
<text x="114.60" y="263.70">-7.67</text>
<text x="134.80" y="263.70">-6.21</text>
<text x="155.00" y="263.70">-6.29</text>
<text x="175.20" y="263.70">-6.29</text>
<text x="195.40" y="263.70">-3.13</text>
<text x="33.80" y="273.10">-0.72</text>
<text x="54.00" y="273.10">-6.19</text>
<text x="74.20" y="273.10">-0.67</text>
<text x="94.40" y="273.10">-3.96</text>
<text x="114.60" y="273.10">-5.91</text>
<text x="134.80" y="273.10">-9.59</text>
<text x="155.00" y="273.10">-4.88</text>
<text x="175.20" y="273.10">-3.09</text>
<text x="195.40" y="273.10">-4.00</text>
<text x="33.80" y="282.50">-1.98</text>
<text x="54.00" y="282.50">-5.84</text>
<text x="74.20" y="282.50">-3.68</text>
<text x="94.40" y="282.50">-5.05</text>
<text x="114.60" y="282.50">-6.73</text>
<text x="134.80" y="282.50">-4.76</text>
<text x="155.00" y="282.50">-4.32</text>
<text x="175.20" y="282.50">-6.72</text>
<text x="195.40" y="282.50">-4.04</text>
<text x="33.80" y="291.90">-2.02</text>
<text x="54.00" y="291.90">-3.08</text>
<text x="74.20" y="291.90">-2.83</text>
<text x="94.40" y="291.90">-2.61</text>
<text x="114.60" y="291.90">-5.25</text>
<text x="134.80" y="291.90">-4.58</text>
<text x="155.00" y="291.90">-3.76</text>
<text x="175.20" y="291.90">-2.93</text>
<text x="195.40" y="291.90">-2.93</text>
<text x="33.80" y="301.30">-2.35</text>
<text x="54.00" y="301.30">-2.61</text>
<text x="74.20" y="301.30">-2.82</text>
<text x="94.40" y="301.30">-3.72</text>
<text x="114.60" y="301.30">-3.87</text>
<text x="134.80" y="301.30">-5.55</text>
<text x="155.00" y="301.30">-1.75</text>
<text x="175.20" y="301.30">-3.88</text>
<text x="195.40" y="301.30">-3.78</text>
<text x="33.80" y="310.70">-1.53</text>
<text x="54.00" y="310.70">-3.85</text>
<text x="74.20" y="310.70">-5.56</text>
<text x="94.40" y="310.70">-3.77</text>
<text x="114.60" y="310.70">-5.82</text>
<text x="134.80" y="310.70">-6.18</text>
<text x="155.00" y="310.70">-4.09</text>
<text x="175.20" y="310.70">0.00</text>
<text x="195.40" y="310.70">-4.00</text>
<text x="33.80" y="320.10">-1.91</text>
<text x="54.00" y="320.10">-3.34</text>
<text x="74.20" y="320.10">-3.30</text>
<text x="94.40" y="320.10">-2.01</text>
<text x="114.60" y="320.10">-2.54</text>
<text x="134.80" y="320.10">-3.80</text>
<text x="155.00" y="320.10">-2.36</text>
<text x="175.20" y="320.10">-1.86</text>
<text x="195.40" y="320.10">-2.57</text>
<text x="33.80" y="329.50">-1.96</text>
<text x="54.00" y="329.50">-3.50</text>
<text x="74.20" y="329.50">-2.81</text>
<text x="94.40" y="329.50">-3.05</text>
<text x="114.60" y="329.50">-3.10</text>
<text x="134.80" y="329.50">-3.55</text>
<text x="155.00" y="329.50">-1.76</text>
<text x="175.20" y="329.50">-2.90</text>
<text x="195.40" y="329.50">-2.03</text>
<text x="33.80" y="338.90">-2.43</text>
<text x="54.00" y="338.90">-4.64</text>
<text x="74.20" y="338.90">-1.44</text>
<text x="94.40" y="338.90">-5.18</text>
<text x="114.60" y="338.90">-3.71</text>
<text x="134.80" y="338.90">-6.18</text>
<text x="155.00" y="338.90">-3.78</text>
<text x="175.20" y="338.90">-9.09</text>
<text x="195.40" y="338.90">-4.92</text>
<text x="33.80" y="348.30">-1.82</text>
<text x="54.00" y="348.30">-3.32</text>
<text x="74.20" y="348.30">-4.20</text>
<text x="94.40" y="348.30">-3.04</text>
<text x="114.60" y="348.30">-4.22</text>
<text x="134.80" y="348.30">-3.92</text>
<text x="155.00" y="348.30">-2.99</text>
<text x="175.20" y="348.30">-5.23</text>
<text x="195.40" y="348.30">-4.32</text>
<text x="33.80" y="357.70">-2.39</text>
<text x="54.00" y="357.70">-5.05</text>
<text x="74.20" y="357.70">-4.18</text>
<text x="94.40" y="357.70">-1.32</text>
<text x="114.60" y="357.70">-3.99</text>
<text x="134.80" y="357.70">-5.71</text>
<text x="155.00" y="357.70">-3.53</text>
<text x="175.20" y="357.70">-3.04</text>
<text x="195.40" y="357.70">-3.46</text>
<text x="33.80" y="367.10">-2.35</text>
<text x="54.00" y="367.10">-2.38</text>
<text x="74.20" y="367.10">-2.72</text>
<text x="94.40" y="367.10">-3.59</text>
<text x="114.60" y="367.10">-3.12</text>
<text x="134.80" y="367.10">-4.98</text>
<text x="155.00" y="367.10">-1.63</text>
<text x="175.20" y="367.10">-2.26</text>
<text x="195.40" y="367.10">-2.98</text>
<text x="33.80" y="376.50">0.09</text>
<text x="54.00" y="376.50">-3.61</text>
<text x="74.20" y="376.50">-5.86</text>
<text x="94.40" y="376.50">-5.02</text>
<text x="114.60" y="376.50">-1.17</text>
<text x="134.80" y="376.50">-6.05</text>
<text x="155.00" y="376.50">-4.23</text>
<text x="175.20" y="376.50">-7.93</text>
<text x="195.40" y="376.50">-6.75</text>
<text x="33.80" y="385.90">-1.69</text>
<text x="54.00" y="385.90">-2.59</text>
<text x="74.20" y="385.90">-2.45</text>
<text x="94.40" y="385.90">-3.33</text>
<text x="114.60" y="385.90">-3.64</text>
<text x="134.80" y="385.90">-5.22</text>
<text x="155.00" y="385.90">-1.57</text>
<text x="175.20" y="385.90">-3.16</text>
<text x="195.40" y="385.90">-3.60</text>
<text x="33.80" y="395.30">-2.88</text>
<text x="54.00" y="395.30">-7.03</text>
<text x="74.20" y="395.30">-3.06</text>
<text x="94.40" y="395.30">-2.54</text>
<text x="114.60" y="395.30">-3.88</text>
<text x="134.80" y="395.30">-3.22</text>
<text x="155.00" y="395.30">-2.23</text>
<text x="175.20" y="395.30">-1.78</text>
<text x="195.40" y="395.30">-1.51</text>
</g>
<g font-size="7.55" font-style="italic" fill="#222">
<text x="207.2" y="28.60">Tekt5</text>
<text x="207.2" y="38.00">Mb</text>
<text x="207.2" y="47.40">Unc45b</text>
<text x="207.2" y="56.80">Myl4</text>
<text x="207.2" y="66.20">Ckm</text>
<text x="207.2" y="75.60">Tnnt3</text>
<text x="207.2" y="85.00">Myh8</text>
<text x="207.2" y="94.40">Ankrd2</text>
<text x="207.2" y="103.80">Art1</text>
<text x="207.2" y="113.20">Cav3</text>
<text x="207.2" y="122.60">Smpx</text>
<text x="207.2" y="132.00">Rbfox1</text>
<text x="207.2" y="141.40">Pkhd1</text>
<text x="207.2" y="150.80">Casq2</text>
<text x="207.2" y="160.20">Tnni2</text>
<text x="207.2" y="169.60">Actn2</text>
<text x="207.2" y="179.00">C130080G10Rik</text>
<text x="207.2" y="188.40">Mybph</text>
<text x="207.2" y="197.80">Tmem252</text>
<text x="207.2" y="207.20">Pgm5</text>
<text x="207.2" y="216.60">Gm7040</text>
<text x="207.2" y="226.00">Prl2c2</text>
<text x="207.2" y="235.40">Prl2c3</text>
<text x="207.2" y="244.80">Car8</text>
<text x="207.2" y="254.20">Selp</text>
<text x="207.2" y="263.60">Prl2c5</text>
<text x="207.2" y="273.00">Gm3776</text>
<text x="207.2" y="282.40">Itgb7</text>
<text x="207.2" y="291.80">Nqo1</text>
<text x="207.2" y="301.20">Plk1</text>
<text x="207.2" y="310.60">Sh2d1b1</text>
<text x="207.2" y="320.00">Uchl1</text>
<text x="207.2" y="329.40">Lrp8</text>
<text x="207.2" y="338.80">Hhip</text>
<text x="207.2" y="348.20">Nefm</text>
<text x="207.2" y="357.60">Krt13</text>
<text x="207.2" y="367.00">Fanci</text>
<text x="207.2" y="376.40">Igsf5</text>
<text x="207.2" y="385.80">Troap</text>
<text x="207.2" y="395.20">Ap1s3</text>
</g>
<g font-size="7.75" fill="#333">
<text transform="translate(31.10,398.6) rotate(90)" x="0" y="0">GSE108503</text>
<text transform="translate(51.30,398.6) rotate(90)" x="0" y="0">GSE110057</text>
<text transform="translate(71.50,398.6) rotate(90)" x="0" y="0">GSE114086</text>
<text transform="translate(91.70,398.6) rotate(90)" x="0" y="0">GSE126370</text>
<text transform="translate(111.90,398.6) rotate(90)" x="0" y="0">GSE146294</text>
<text transform="translate(132.10,398.6) rotate(90)" x="0" y="0">GSE70389</text>
<text transform="translate(152.30,398.6) rotate(90)" x="0" y="0">GSE76010</text>
<text transform="translate(172.50,398.6) rotate(90)" x="0" y="0">GSE84158</text>
<text transform="translate(192.70,398.6) rotate(90)" x="0" y="0">GSE89399</text>
</g>
<defs><linearGradient id="cb" x1="0" y1="0" x2="0" y2="1">
<stop offset="0" stop-color="#ee685e"/>
<stop offset="0.5919" stop-color="#ffffff"/>
<stop offset="1" stop-color="#6c9ec8"/>
</linearGradient></defs>
<rect x="235.7" y="21.20" width="5.3" height="87.80" fill="url(#cb)"/>
<g font-size="7.3" fill="#333">
<text x="243.6" y="25.15">15</text>
<text x="243.6" y="42.02">10</text>
<text x="243.6" y="58.89">5</text>
<text x="243.6" y="75.76">0</text>
<text x="243.6" y="92.64">−5</text>
<text x="243.6" y="109.51">−10</text>
</g>
<text transform="translate(255.6,51.6) rotate(90)" font-size="7.8" fill="#333">log<tspan font-size="4.8" dy="2.2">2</tspan><tspan dy="-2.2">FC</tspan></text>
<rect x="282.50" y="22.20" width="9.00" height="386.50" fill="#ebebeb"/>
<rect x="282.50" y="408.70" width="9.00" height="20.10" fill="#dedede"/>
<rect x="294.79" y="22.20" width="9.00" height="386.50" fill="#ebebeb"/>
<rect x="294.79" y="408.70" width="9.00" height="20.10" fill="#dedede"/>
<rect x="307.08" y="22.20" width="9.00" height="386.50" fill="#ebebeb"/>
<rect x="307.08" y="408.70" width="9.00" height="20.10" fill="#dedede"/>
<rect x="319.37" y="22.20" width="9.00" height="386.50" fill="#ebebeb"/>
<rect x="319.37" y="408.70" width="9.00" height="20.10" fill="#dedede"/>
<rect x="331.66" y="22.20" width="9.00" height="386.50" fill="#ebebeb"/>
<rect x="331.66" y="408.70" width="9.00" height="20.10" fill="#dedede"/>
<rect x="343.95" y="22.20" width="9.00" height="386.50" fill="#ebebeb"/>
<rect x="343.95" y="408.70" width="9.00" height="20.10" fill="#dedede"/>
<rect x="356.24" y="22.20" width="9.00" height="386.50" fill="#ebebeb"/>
<rect x="356.24" y="408.70" width="9.00" height="20.10" fill="#dedede"/>
<rect x="368.53" y="22.20" width="9.00" height="386.50" fill="#ebebeb"/>
<rect x="368.53" y="408.70" width="9.00" height="20.10" fill="#dedede"/>
<rect x="380.82" y="22.20" width="9.00" height="386.50" fill="#ebebeb"/>
<rect x="380.82" y="408.70" width="9.00" height="20.10" fill="#dedede"/>
<rect x="393.11" y="22.20" width="9.00" height="386.50" fill="#ebebeb"/>
<rect x="393.11" y="408.70" width="9.00" height="20.10" fill="#dedede"/>
<rect x="405.40" y="22.20" width="9.00" height="386.50" fill="#ebebeb"/>
<rect x="405.40" y="408.70" width="9.00" height="20.10" fill="#dedede"/>
<rect x="417.69" y="22.20" width="9.00" height="386.50" fill="#ebebeb"/>
<rect x="417.69" y="408.70" width="9.00" height="20.10" fill="#dedede"/>
<rect x="429.98" y="22.20" width="9.00" height="386.50" fill="#ebebeb"/>
<rect x="429.98" y="408.70" width="9.00" height="20.10" fill="#dedede"/>
<rect x="442.27" y="22.20" width="9.00" height="386.50" fill="#ebebeb"/>
<rect x="442.27" y="408.70" width="9.00" height="20.10" fill="#dedede"/>
<rect x="454.56" y="22.20" width="9.00" height="386.50" fill="#ebebeb"/>
<rect x="454.56" y="408.70" width="9.00" height="20.10" fill="#dedede"/>
<rect x="466.85" y="22.20" width="9.00" height="386.50" fill="#ebebeb"/>
<rect x="466.85" y="408.70" width="9.00" height="20.10" fill="#dedede"/>
<rect x="479.14" y="22.20" width="9.00" height="386.50" fill="#ebebeb"/>
<rect x="479.14" y="408.70" width="9.00" height="20.10" fill="#dedede"/>
<rect x="491.43" y="22.20" width="9.00" height="386.50" fill="#ebebeb"/>
<rect x="491.43" y="408.70" width="9.00" height="20.10" fill="#dedede"/>
<rect x="503.72" y="22.20" width="9.00" height="386.50" fill="#ebebeb"/>
<rect x="503.72" y="408.70" width="9.00" height="20.10" fill="#dedede"/>
<rect x="516.01" y="22.20" width="9.00" height="386.50" fill="#ebebeb"/>
<rect x="516.01" y="408.70" width="9.00" height="20.10" fill="#dedede"/>
<rect x="528.30" y="22.20" width="9.00" height="386.50" fill="#ebebeb"/>
<rect x="528.30" y="408.70" width="9.00" height="20.10" fill="#dedede"/>
<rect x="283.00" y="39.40" width="8.00" height="165.60" fill="#fff" stroke="none"/>
<rect x="283.05" y="39.40" width="7.90" height="165.60" fill="none" stroke="#4a4a4a" stroke-width="1.1"/>
<rect x="282.50" y="203.85" width="9.00" height="1.50" fill="#f26a61"/>
<text transform="translate(285.20,428.3) rotate(90)" text-anchor="end" font-size="7.5" fill="#333">chrY</text>
<rect x="295.29" y="39.40" width="8.00" height="309.60" fill="#fff" stroke="none"/>
<rect x="295.34" y="39.40" width="7.90" height="309.60" fill="none" stroke="#4a4a4a" stroke-width="1.1"/>
<rect x="294.79" y="50.65" width="9.00" height="1.50" fill="#1db4ba"/>
<rect x="294.79" y="52.55" width="9.00" height="1.50" fill="#f26a61"/>
<rect x="294.79" y="54.35" width="9.00" height="1.50" fill="#1db4ba"/>
<rect x="294.79" y="56.85" width="9.00" height="1.50" fill="#f26a61"/>
<rect x="294.79" y="59.85" width="9.00" height="1.50" fill="#f26a61"/>
<rect x="294.79" y="69.65" width="9.00" height="1.50" fill="#f26a61"/>
<rect x="294.79" y="76.35" width="9.00" height="1.50" fill="#f26a61"/>
<rect x="294.79" y="80.65" width="9.00" height="1.50" fill="#f26a61"/>
<rect x="294.79" y="105.75" width="9.00" height="1.50" fill="#1db4ba"/>
<rect x="294.79" y="108.15" width="9.00" height="1.50" fill="#f26a61"/>
<rect x="294.79" y="120.45" width="9.00" height="1.50" fill="#f26a61"/>
<rect x="294.79" y="125.95" width="9.00" height="1.50" fill="#1db4ba"/>
<rect x="294.79" y="131.45" width="9.00" height="1.50" fill="#1db4ba"/>
<rect x="294.79" y="133.85" width="9.00" height="1.50" fill="#1db4ba"/>
<rect x="294.79" y="146.75" width="9.00" height="1.50" fill="#f26a61"/>
<rect x="294.79" y="155.95" width="9.00" height="1.50" fill="#f26a61"/>
<rect x="294.79" y="160.25" width="9.00" height="1.50" fill="#1db4ba"/>
<rect x="294.79" y="163.85" width="9.00" height="1.50" fill="#1db4ba"/>
<rect x="294.79" y="167.55" width="9.00" height="1.50" fill="#f26a61"/>
<rect x="294.79" y="170.55" width="9.00" height="1.50" fill="#f26a61"/>
<rect x="294.79" y="174.25" width="9.00" height="1.50" fill="#1db4ba"/>
<rect x="294.79" y="175.45" width="9.00" height="1.50" fill="#1db4ba"/>
<rect x="294.79" y="180.35" width="9.00" height="1.50" fill="#1db4ba"/>
<rect x="294.79" y="190.15" width="9.00" height="1.50" fill="#f26a61"/>
<rect x="294.79" y="193.25" width="9.00" height="1.50" fill="#f26a61"/>
<rect x="294.79" y="209.15" width="9.00" height="1.50" fill="#1db4ba"/>
<rect x="294.79" y="215.85" width="9.00" height="1.50" fill="#f26a61"/>
<rect x="294.79" y="218.35" width="9.00" height="1.50" fill="#f26a61"/>
<rect x="294.79" y="221.95" width="9.00" height="1.50" fill="#1db4ba"/>
<rect x="294.79" y="225.05" width="9.00" height="1.50" fill="#1db4ba"/>
<rect x="294.79" y="226.25" width="9.00" height="1.50" fill="#1db4ba"/>
<rect x="294.79" y="233.55" width="9.00" height="1.50" fill="#f26a61"/>
<rect x="294.79" y="243.35" width="9.00" height="1.50" fill="#f26a61"/>
<rect x="294.79" y="259.25" width="9.00" height="1.50" fill="#1db4ba"/>
<rect x="294.79" y="284.75" width="9.00" height="1.50" fill="#f26a61"/>
<rect x="294.79" y="286.25" width="9.00" height="1.50" fill="#f26a61"/>
<rect x="294.79" y="293.25" width="9.00" height="1.50" fill="#f26a61"/>
<rect x="294.79" y="295.05" width="9.00" height="1.50" fill="#f26a61"/>
<rect x="294.79" y="297.65" width="9.00" height="1.50" fill="#1db4ba"/>
<rect x="294.79" y="302.15" width="9.00" height="1.50" fill="#f26a61"/>
<rect x="294.79" y="304.85" width="9.00" height="1.50" fill="#1db4ba"/>
<rect x="294.79" y="306.95" width="9.00" height="1.50" fill="#f26a61"/>
<rect x="294.79" y="312.85" width="9.00" height="1.50" fill="#1db4ba"/>
<rect x="294.79" y="316.35" width="9.00" height="1.50" fill="#f26a61"/>
<rect x="294.79" y="319.05" width="9.00" height="1.50" fill="#1db4ba"/>
<rect x="294.79" y="320.85" width="9.00" height="1.50" fill="#1db4ba"/>
<rect x="294.79" y="322.55" width="9.00" height="1.50" fill="#1db4ba"/>
<rect x="294.79" y="327.05" width="9.00" height="1.50" fill="#f26a61"/>
<rect x="294.79" y="332.35" width="9.00" height="1.50" fill="#f26a61"/>
<rect x="294.79" y="337.65" width="9.00" height="1.50" fill="#1db4ba"/>
<rect x="294.79" y="338.95" width="9.00" height="1.50" fill="#1db4ba"/>
<rect x="294.79" y="341.25" width="9.00" height="1.50" fill="#f26a61"/>
<rect x="294.79" y="347.45" width="9.00" height="1.50" fill="#f26a61"/>
<text transform="translate(297.49,428.3) rotate(90)" text-anchor="end" font-size="7.5" fill="#333">chrX</text>
<rect x="307.58" y="39.40" width="8.00" height="111.20" fill="#fff" stroke="none"/>
<rect x="307.63" y="39.40" width="7.90" height="111.20" fill="none" stroke="#4a4a4a" stroke-width="1.1"/>
<rect x="307.08" y="45.15" width="9.00" height="1.50" fill="#f26a61"/>
<rect x="307.08" y="46.45" width="9.00" height="1.50" fill="#1db4ba"/>
<rect x="307.08" y="48.25" width="9.00" height="1.50" fill="#1db4ba"/>
<rect x="307.08" y="50.05" width="9.00" height="1.50" fill="#1db4ba"/>
<rect x="307.08" y="52.55" width="9.00" height="1.50" fill="#f26a61"/>
<rect x="307.08" y="56.15" width="9.00" height="1.50" fill="#1db4ba"/>
<rect x="307.08" y="58.05" width="9.00" height="1.50" fill="#f26a61"/>
<rect x="307.08" y="59.85" width="9.00" height="1.50" fill="#f26a61"/>
<rect x="307.08" y="70.25" width="9.00" height="1.50" fill="#f26a61"/>
<rect x="307.08" y="72.75" width="9.00" height="1.50" fill="#1db4ba"/>
<rect x="307.08" y="75.15" width="9.00" height="1.50" fill="#1db4ba"/>
<rect x="307.08" y="77.55" width="9.00" height="1.50" fill="#f26a61"/>
<rect x="307.08" y="80.05" width="9.00" height="1.50" fill="#f26a61"/>
<rect x="307.08" y="83.05" width="9.00" height="1.50" fill="#1db4ba"/>
<rect x="307.08" y="84.35" width="9.00" height="1.50" fill="#f26a61"/>
<rect x="307.08" y="86.15" width="9.00" height="1.50" fill="#1db4ba"/>
<rect x="307.08" y="87.95" width="9.00" height="1.50" fill="#f26a61"/>
<rect x="307.08" y="90.45" width="9.00" height="1.50" fill="#1db4ba"/>
<rect x="307.08" y="94.75" width="9.00" height="1.50" fill="#f26a61"/>
<rect x="307.08" y="96.55" width="9.00" height="1.50" fill="#f26a61"/>
<rect x="307.08" y="100.25" width="9.00" height="1.50" fill="#f26a61"/>
<rect x="307.08" y="103.95" width="9.00" height="1.50" fill="#f26a61"/>
<rect x="307.08" y="108.15" width="9.00" height="1.50" fill="#1db4ba"/>
<rect x="307.08" y="110.65" width="9.00" height="1.50" fill="#1db4ba"/>
<rect x="307.08" y="113.65" width="9.00" height="1.50" fill="#1db4ba"/>
<rect x="307.08" y="115.55" width="9.00" height="1.50" fill="#1db4ba"/>
<rect x="307.08" y="117.95" width="9.00" height="1.50" fill="#f26a61"/>
<rect x="307.08" y="121.65" width="9.00" height="1.50" fill="#f26a61"/>
<rect x="307.08" y="123.45" width="9.00" height="1.50" fill="#1db4ba"/>
<rect x="307.08" y="124.75" width="9.00" height="1.50" fill="#f26a61"/>
<rect x="307.08" y="136.95" width="9.00" height="1.50" fill="#f26a61"/>
<rect x="307.08" y="138.75" width="9.00" height="1.50" fill="#1db4ba"/>
<rect x="307.08" y="140.55" width="9.00" height="1.50" fill="#f26a61"/>
<rect x="307.08" y="142.45" width="9.00" height="1.50" fill="#1db4ba"/>
<rect x="307.08" y="146.15" width="9.00" height="1.50" fill="#1db4ba"/>
<rect x="307.08" y="149.25" width="9.00" height="1.50" fill="#f26a61"/>
<text transform="translate(309.78,428.3) rotate(90)" text-anchor="end" font-size="7.5" fill="#333">chr19</text>
<rect x="319.87" y="39.40" width="8.00" height="162.60" fill="#fff" stroke="none"/>
<rect x="319.92" y="39.40" width="7.90" height="162.60" fill="none" stroke="#4a4a4a" stroke-width="1.1"/>
<rect x="319.37" y="48.25" width="9.00" height="1.50" fill="#f26a61"/>
<rect x="319.37" y="49.45" width="9.00" height="1.50" fill="#f26a61"/>
<rect x="319.37" y="51.35" width="9.00" height="1.50" fill="#1db4ba"/>
<rect x="319.37" y="53.15" width="9.00" height="1.50" fill="#1db4ba"/>
<rect x="319.37" y="55.55" width="9.00" height="1.50" fill="#f26a61"/>
<rect x="319.37" y="58.05" width="9.00" height="1.50" fill="#1db4ba"/>
<rect x="319.37" y="59.85" width="9.00" height="1.50" fill="#1db4ba"/>
<rect x="319.37" y="61.05" width="9.00" height="1.50" fill="#f26a61"/>
<rect x="319.37" y="76.95" width="9.00" height="1.50" fill="#1db4ba"/>
<rect x="319.37" y="78.85" width="9.00" height="1.50" fill="#1db4ba"/>
<rect x="319.37" y="81.25" width="9.00" height="1.50" fill="#1db4ba"/>
<rect x="319.37" y="83.75" width="9.00" height="1.50" fill="#1db4ba"/>
<rect x="319.37" y="86.15" width="9.00" height="1.50" fill="#f26a61"/>
<rect x="319.37" y="89.85" width="9.00" height="1.50" fill="#f26a61"/>
<rect x="319.37" y="96.55" width="9.00" height="1.50" fill="#1db4ba"/>
<rect x="319.37" y="97.85" width="9.00" height="1.50" fill="#f26a61"/>
<rect x="319.37" y="103.95" width="9.00" height="1.50" fill="#f26a61"/>
<rect x="319.37" y="105.75" width="9.00" height="1.50" fill="#f26a61"/>
<rect x="319.37" y="107.55" width="9.00" height="1.50" fill="#1db4ba"/>
<rect x="319.37" y="116.75" width="9.00" height="1.50" fill="#1db4ba"/>
<rect x="319.37" y="117.95" width="9.00" height="1.50" fill="#1db4ba"/>
<rect x="319.37" y="118.55" width="9.00" height="1.50" fill="#f26a61"/>
<rect x="319.37" y="124.75" width="9.00" height="1.50" fill="#f26a61"/>
<rect x="319.37" y="135.75" width="9.00" height="1.50" fill="#1db4ba"/>
<rect x="319.37" y="138.75" width="9.00" height="1.50" fill="#f26a61"/>
<rect x="319.37" y="141.25" width="9.00" height="1.50" fill="#1db4ba"/>
<rect x="319.37" y="143.25" width="9.00" height="1.50" fill="#f26a61"/>
<rect x="319.37" y="148.55" width="9.00" height="1.50" fill="#f26a61"/>
<rect x="319.37" y="151.05" width="9.00" height="1.50" fill="#f26a61"/>
<rect x="319.37" y="156.55" width="9.00" height="1.50" fill="#f26a61"/>
<rect x="319.37" y="160.25" width="9.00" height="1.50" fill="#f26a61"/>
<rect x="319.37" y="162.65" width="9.00" height="1.50" fill="#1db4ba"/>
<rect x="319.37" y="166.95" width="9.00" height="1.50" fill="#1db4ba"/>
<rect x="319.37" y="173.65" width="9.00" height="1.50" fill="#1db4ba"/>
<rect x="319.37" y="176.05" width="9.00" height="1.50" fill="#f26a61"/>
<rect x="319.37" y="180.35" width="9.00" height="1.50" fill="#1db4ba"/>
<rect x="319.37" y="189.55" width="9.00" height="1.50" fill="#1db4ba"/>
<rect x="319.37" y="191.95" width="9.00" height="1.50" fill="#1db4ba"/>
<rect x="319.37" y="194.45" width="9.00" height="1.50" fill="#1db4ba"/>
<rect x="319.37" y="198.15" width="9.00" height="1.50" fill="#f26a61"/>
<rect x="319.37" y="199.95" width="9.00" height="1.50" fill="#1db4ba"/>
<text transform="translate(322.07,428.3) rotate(90)" text-anchor="end" font-size="7.5" fill="#333">chr18</text>
<rect x="332.16" y="39.40" width="8.00" height="172.90" fill="#fff" stroke="none"/>
<rect x="332.21" y="39.40" width="7.90" height="172.90" fill="none" stroke="#4a4a4a" stroke-width="1.1"/>
<rect x="331.66" y="44.55" width="9.00" height="1.50" fill="#1db4ba"/>
<rect x="331.66" y="47.05" width="9.00" height="1.50" fill="#f26a61"/>
<rect x="331.66" y="49.45" width="9.00" height="1.50" fill="#1db4ba"/>
<rect x="331.66" y="51.35" width="9.00" height="1.50" fill="#1db4ba"/>
<rect x="331.66" y="53.15" width="9.00" height="1.50" fill="#f26a61"/>
<rect x="331.66" y="55.55" width="9.00" height="1.50" fill="#1db4ba"/>
<rect x="331.66" y="58.65" width="9.00" height="1.50" fill="#f26a61"/>
<rect x="331.66" y="61.05" width="9.00" height="1.50" fill="#f26a61"/>
<rect x="331.66" y="62.95" width="9.00" height="1.50" fill="#1db4ba"/>
<rect x="331.66" y="66.55" width="9.00" height="1.50" fill="#f26a61"/>
<rect x="331.66" y="69.65" width="9.00" height="1.50" fill="#1db4ba"/>
<rect x="331.66" y="78.85" width="9.00" height="1.50" fill="#1db4ba"/>
<rect x="331.66" y="83.05" width="9.00" height="1.50" fill="#1db4ba"/>
<rect x="331.66" y="85.55" width="9.00" height="1.50" fill="#1db4ba"/>
<rect x="331.66" y="87.35" width="9.00" height="1.50" fill="#1db4ba"/>
<rect x="331.66" y="89.85" width="9.00" height="1.50" fill="#f26a61"/>
<rect x="331.66" y="94.75" width="9.00" height="1.50" fill="#f26a61"/>
<rect x="331.66" y="96.55" width="9.00" height="1.50" fill="#f26a61"/>
<rect x="331.66" y="99.05" width="9.00" height="1.50" fill="#1db4ba"/>
<rect x="331.66" y="101.45" width="9.00" height="1.50" fill="#1db4ba"/>
<rect x="331.66" y="103.95" width="9.00" height="1.50" fill="#1db4ba"/>
<rect x="331.66" y="111.25" width="9.00" height="1.50" fill="#1db4ba"/>
<rect x="331.66" y="112.45" width="9.00" height="1.50" fill="#1db4ba"/>
<rect x="331.66" y="115.55" width="9.00" height="1.50" fill="#1db4ba"/>
<rect x="331.66" y="120.45" width="9.00" height="1.50" fill="#f26a61"/>
<rect x="331.66" y="122.85" width="9.00" height="1.50" fill="#1db4ba"/>
<rect x="331.66" y="125.95" width="9.00" height="1.50" fill="#f26a61"/>
<rect x="331.66" y="128.95" width="9.00" height="1.50" fill="#f26a61"/>
<rect x="331.66" y="135.75" width="9.00" height="1.50" fill="#1db4ba"/>
<rect x="331.66" y="138.75" width="9.00" height="1.50" fill="#1db4ba"/>
<rect x="331.66" y="141.85" width="9.00" height="1.50" fill="#1db4ba"/>
<rect x="331.66" y="152.85" width="9.00" height="1.50" fill="#1db4ba"/>
<rect x="331.66" y="160.25" width="9.00" height="1.50" fill="#f26a61"/>
<rect x="331.66" y="161.45" width="9.00" height="1.50" fill="#f26a61"/>
<rect x="331.66" y="163.85" width="9.00" height="1.50" fill="#1db4ba"/>
<rect x="331.66" y="166.95" width="9.00" height="1.50" fill="#1db4ba"/>
<rect x="331.66" y="168.15" width="9.00" height="1.50" fill="#1db4ba"/>
<rect x="331.66" y="176.05" width="9.00" height="1.50" fill="#f26a61"/>
<rect x="331.66" y="181.55" width="9.00" height="1.50" fill="#1db4ba"/>
<rect x="331.66" y="184.65" width="9.00" height="1.50" fill="#1db4ba"/>
<rect x="331.66" y="187.75" width="9.00" height="1.50" fill="#1db4ba"/>
<rect x="331.66" y="190.15" width="9.00" height="1.50" fill="#1db4ba"/>
<rect x="331.66" y="193.85" width="9.00" height="1.50" fill="#f26a61"/>
<rect x="331.66" y="195.65" width="9.00" height="1.50" fill="#f26a61"/>
<rect x="331.66" y="197.55" width="9.00" height="1.50" fill="#1db4ba"/>
<rect x="331.66" y="201.85" width="9.00" height="1.50" fill="#1db4ba"/>
<rect x="331.66" y="210.95" width="9.00" height="1.50" fill="#1db4ba"/>
<text transform="translate(334.36,428.3) rotate(90)" text-anchor="end" font-size="7.5" fill="#333">chr17</text>
<rect x="344.45" y="39.40" width="8.00" height="177.80" fill="#fff" stroke="none"/>
<rect x="344.50" y="39.40" width="7.90" height="177.80" fill="none" stroke="#4a4a4a" stroke-width="1.1"/>
<rect x="343.95" y="45.85" width="9.00" height="1.50" fill="#f26a61"/>
<rect x="343.95" y="47.65" width="9.00" height="1.50" fill="#1db4ba"/>
<rect x="343.95" y="49.45" width="9.00" height="1.50" fill="#f26a61"/>
<rect x="343.95" y="51.35" width="9.00" height="1.50" fill="#f26a61"/>
<rect x="343.95" y="53.15" width="9.00" height="1.50" fill="#f26a61"/>
<rect x="343.95" y="55.55" width="9.00" height="1.50" fill="#1db4ba"/>
<rect x="343.95" y="58.65" width="9.00" height="1.50" fill="#f26a61"/>
<rect x="343.95" y="60.45" width="9.00" height="1.50" fill="#1db4ba"/>
<rect x="343.95" y="65.35" width="9.00" height="1.50" fill="#1db4ba"/>
<rect x="343.95" y="68.45" width="9.00" height="1.50" fill="#f26a61"/>
<rect x="343.95" y="70.25" width="9.00" height="1.50" fill="#f26a61"/>
<rect x="343.95" y="72.05" width="9.00" height="1.50" fill="#1db4ba"/>
<rect x="343.95" y="74.55" width="9.00" height="1.50" fill="#f26a61"/>
<rect x="343.95" y="76.95" width="9.00" height="1.50" fill="#f26a61"/>
<rect x="343.95" y="79.45" width="9.00" height="1.50" fill="#1db4ba"/>
<rect x="343.95" y="81.25" width="9.00" height="1.50" fill="#1db4ba"/>
<rect x="343.95" y="82.45" width="9.00" height="1.50" fill="#f26a61"/>
<rect x="343.95" y="84.35" width="9.00" height="1.50" fill="#1db4ba"/>
<rect x="343.95" y="86.15" width="9.00" height="1.50" fill="#f26a61"/>
<rect x="343.95" y="91.05" width="9.00" height="1.50" fill="#f26a61"/>
<rect x="343.95" y="91.65" width="9.00" height="1.50" fill="#f26a61"/>
<rect x="343.95" y="94.75" width="9.00" height="1.50" fill="#f26a61"/>
<rect x="343.95" y="97.15" width="9.00" height="1.50" fill="#1db4ba"/>
<rect x="343.95" y="99.05" width="9.00" height="1.50" fill="#f26a61"/>
<rect x="343.95" y="101.45" width="9.00" height="1.50" fill="#1db4ba"/>
<rect x="343.95" y="103.35" width="9.00" height="1.50" fill="#f26a61"/>
<rect x="343.95" y="105.75" width="9.00" height="1.50" fill="#f26a61"/>
<rect x="343.95" y="108.85" width="9.00" height="1.50" fill="#f26a61"/>
<rect x="343.95" y="118.55" width="9.00" height="1.50" fill="#1db4ba"/>
<rect x="343.95" y="120.45" width="9.00" height="1.50" fill="#f26a61"/>
<rect x="343.95" y="122.25" width="9.00" height="1.50" fill="#f26a61"/>
<rect x="343.95" y="128.35" width="9.00" height="1.50" fill="#1db4ba"/>
<rect x="343.95" y="133.85" width="9.00" height="1.50" fill="#1db4ba"/>
<rect x="343.95" y="136.35" width="9.00" height="1.50" fill="#f26a61"/>
<rect x="343.95" y="138.75" width="9.00" height="1.50" fill="#f26a61"/>
<rect x="343.95" y="141.85" width="9.00" height="1.50" fill="#1db4ba"/>
<rect x="343.95" y="145.55" width="9.00" height="1.50" fill="#1db4ba"/>
<rect x="343.95" y="146.75" width="9.00" height="1.50" fill="#1db4ba"/>
<rect x="343.95" y="149.85" width="9.00" height="1.50" fill="#1db4ba"/>
<rect x="343.95" y="156.55" width="9.00" height="1.50" fill="#1db4ba"/>
<rect x="343.95" y="180.95" width="9.00" height="1.50" fill="#1db4ba"/>
<rect x="343.95" y="194.75" width="9.00" height="1.50" fill="#f26a61"/>
<rect x="343.95" y="198.15" width="9.00" height="1.50" fill="#f26a61"/>
<rect x="343.95" y="204.25" width="9.00" height="1.50" fill="#1db4ba"/>
<rect x="343.95" y="206.05" width="9.00" height="1.50" fill="#1db4ba"/>
<rect x="343.95" y="209.15" width="9.00" height="1.50" fill="#f26a61"/>
<rect x="343.95" y="211.55" width="9.00" height="1.50" fill="#1db4ba"/>
<rect x="343.95" y="214.05" width="9.00" height="1.50" fill="#1db4ba"/>
<rect x="343.95" y="215.85" width="9.00" height="1.50" fill="#f26a61"/>
<text transform="translate(346.65,428.3) rotate(90)" text-anchor="end" font-size="7.5" fill="#333">chr16</text>
<rect x="356.74" y="39.40" width="8.00" height="189.40" fill="#fff" stroke="none"/>
<rect x="356.79" y="39.40" width="7.90" height="189.40" fill="none" stroke="#4a4a4a" stroke-width="1.1"/>
<rect x="356.24" y="44.55" width="9.00" height="1.50" fill="#f26a61"/>
<rect x="356.24" y="47.65" width="9.00" height="1.50" fill="#1db4ba"/>
<rect x="356.24" y="49.45" width="9.00" height="1.50" fill="#1db4ba"/>
<rect x="356.24" y="50.65" width="9.00" height="1.50" fill="#f26a61"/>
<rect x="356.24" y="52.55" width="9.00" height="1.50" fill="#1db4ba"/>
<rect x="356.24" y="54.95" width="9.00" height="1.50" fill="#1db4ba"/>
<rect x="356.24" y="56.85" width="9.00" height="1.50" fill="#1db4ba"/>
<rect x="356.24" y="60.45" width="9.00" height="1.50" fill="#f26a61"/>
<rect x="356.24" y="62.35" width="9.00" height="1.50" fill="#f26a61"/>
<rect x="356.24" y="80.65" width="9.00" height="1.50" fill="#1db4ba"/>
<rect x="356.24" y="99.65" width="9.00" height="1.50" fill="#f26a61"/>
<rect x="356.24" y="102.05" width="9.00" height="1.50" fill="#1db4ba"/>
<rect x="356.24" y="105.15" width="9.00" height="1.50" fill="#1db4ba"/>
<rect x="356.24" y="110.65" width="9.00" height="1.50" fill="#1db4ba"/>
<rect x="356.24" y="112.45" width="9.00" height="1.50" fill="#1db4ba"/>
<rect x="356.24" y="114.95" width="9.00" height="1.50" fill="#f26a61"/>
<rect x="356.24" y="117.95" width="9.00" height="1.50" fill="#f26a61"/>
<rect x="356.24" y="138.15" width="9.00" height="1.50" fill="#f26a61"/>
<rect x="356.24" y="139.95" width="9.00" height="1.50" fill="#1db4ba"/>
<rect x="356.24" y="142.75" width="9.00" height="1.50" fill="#f26a61"/>
<rect x="356.24" y="144.35" width="9.00" height="1.50" fill="#f26a61"/>
<rect x="356.24" y="146.75" width="9.00" height="1.50" fill="#1db4ba"/>
<rect x="356.24" y="160.15" width="9.00" height="1.50" fill="#f26a61"/>
<rect x="356.24" y="173.65" width="9.00" height="1.50" fill="#1db4ba"/>
<rect x="356.24" y="176.05" width="9.00" height="1.50" fill="#f26a61"/>
<rect x="356.24" y="177.95" width="9.00" height="1.50" fill="#f26a61"/>
<rect x="356.24" y="180.35" width="9.00" height="1.50" fill="#f26a61"/>
<rect x="356.24" y="182.85" width="9.00" height="1.50" fill="#f26a61"/>
<rect x="356.24" y="186.45" width="9.00" height="1.50" fill="#1db4ba"/>
<rect x="356.24" y="189.55" width="9.00" height="1.50" fill="#f26a61"/>
<rect x="356.24" y="191.35" width="9.00" height="1.50" fill="#f26a61"/>
<rect x="356.24" y="193.85" width="9.00" height="1.50" fill="#1db4ba"/>
<rect x="356.24" y="195.05" width="9.00" height="1.50" fill="#1db4ba"/>
<rect x="356.24" y="195.65" width="9.00" height="1.50" fill="#f26a61"/>
<rect x="356.24" y="197.55" width="9.00" height="1.50" fill="#1db4ba"/>
<rect x="356.24" y="200.55" width="9.00" height="1.50" fill="#1db4ba"/>
<rect x="356.24" y="209.75" width="9.00" height="1.50" fill="#1db4ba"/>
<rect x="356.24" y="211.55" width="9.00" height="1.50" fill="#f26a61"/>
<rect x="356.24" y="214.05" width="9.00" height="1.50" fill="#1db4ba"/>
<rect x="356.24" y="215.85" width="9.00" height="1.50" fill="#1db4ba"/>
<rect x="356.24" y="217.65" width="9.00" height="1.50" fill="#1db4ba"/>
<rect x="356.24" y="219.55" width="9.00" height="1.50" fill="#1db4ba"/>
<rect x="356.24" y="221.35" width="9.00" height="1.50" fill="#f26a61"/>
<rect x="356.24" y="223.25" width="9.00" height="1.50" fill="#f26a61"/>
<rect x="356.24" y="224.45" width="9.00" height="1.50" fill="#1db4ba"/>
<rect x="356.24" y="226.25" width="9.00" height="1.50" fill="#f26a61"/>
<rect x="356.24" y="227.45" width="9.00" height="1.50" fill="#1db4ba"/>
<text transform="translate(358.94,428.3) rotate(90)" text-anchor="end" font-size="7.5" fill="#333">chr15</text>
<rect x="369.03" y="39.40" width="8.00" height="222.60" fill="#fff" stroke="none"/>
<rect x="369.08" y="39.40" width="7.90" height="222.60" fill="none" stroke="#4a4a4a" stroke-width="1.1"/>
<rect x="368.53" y="43.95" width="9.00" height="1.50" fill="#1db4ba"/>
<rect x="368.53" y="49.45" width="9.00" height="1.50" fill="#1db4ba"/>
<rect x="368.53" y="53.15" width="9.00" height="1.50" fill="#f26a61"/>
<rect x="368.53" y="63.55" width="9.00" height="1.50" fill="#f26a61"/>
<rect x="368.53" y="65.95" width="9.00" height="1.50" fill="#f26a61"/>
<rect x="368.53" y="71.45" width="9.00" height="1.50" fill="#f26a61"/>
<rect x="368.53" y="74.55" width="9.00" height="1.50" fill="#f26a61"/>
<rect x="368.53" y="76.35" width="9.00" height="1.50" fill="#f26a61"/>
<rect x="368.53" y="78.85" width="9.00" height="1.50" fill="#f26a61"/>
<rect x="368.53" y="80.65" width="9.00" height="1.50" fill="#1db4ba"/>
<rect x="368.53" y="83.05" width="9.00" height="1.50" fill="#1db4ba"/>
<rect x="368.53" y="84.95" width="9.00" height="1.50" fill="#f26a61"/>
<rect x="368.53" y="86.75" width="9.00" height="1.50" fill="#f26a61"/>
<rect x="368.53" y="88.55" width="9.00" height="1.50" fill="#1db4ba"/>
<rect x="368.53" y="91.05" width="9.00" height="1.50" fill="#f26a61"/>
<rect x="368.53" y="93.55" width="9.00" height="1.50" fill="#1db4ba"/>
<rect x="368.53" y="95.95" width="9.00" height="1.50" fill="#f26a61"/>
<rect x="368.53" y="99.65" width="9.00" height="1.50" fill="#1db4ba"/>
<rect x="368.53" y="101.45" width="9.00" height="1.50" fill="#f26a61"/>
<rect x="368.53" y="113.05" width="9.00" height="1.50" fill="#f26a61"/>
<rect x="368.53" y="115.55" width="9.00" height="1.50" fill="#1db4ba"/>
<rect x="368.53" y="117.35" width="9.00" height="1.50" fill="#1db4ba"/>
<rect x="368.53" y="120.45" width="9.00" height="1.50" fill="#f26a61"/>
<rect x="368.53" y="122.85" width="9.00" height="1.50" fill="#f26a61"/>
<rect x="368.53" y="125.35" width="9.00" height="1.50" fill="#1db4ba"/>
<rect x="368.53" y="128.35" width="9.00" height="1.50" fill="#f26a61"/>
<rect x="368.53" y="130.25" width="9.00" height="1.50" fill="#1db4ba"/>
<rect x="368.53" y="132.65" width="9.00" height="1.50" fill="#f26a61"/>
<rect x="368.53" y="138.15" width="9.00" height="1.50" fill="#f26a61"/>
<rect x="368.53" y="140.55" width="9.00" height="1.50" fill="#1db4ba"/>
<rect x="368.53" y="143.05" width="9.00" height="1.50" fill="#1db4ba"/>
<rect x="368.53" y="145.55" width="9.00" height="1.50" fill="#f26a61"/>
<rect x="368.53" y="147.35" width="9.00" height="1.50" fill="#1db4ba"/>
<rect x="368.53" y="149.15" width="9.00" height="1.50" fill="#f26a61"/>
<rect x="368.53" y="153.45" width="9.00" height="1.50" fill="#f26a61"/>
<rect x="368.53" y="156.55" width="9.00" height="1.50" fill="#f26a61"/>
<rect x="368.53" y="158.95" width="9.00" height="1.50" fill="#1db4ba"/>
<rect x="368.53" y="161.45" width="9.00" height="1.50" fill="#1db4ba"/>
<rect x="368.53" y="165.05" width="9.00" height="1.50" fill="#f26a61"/>
<rect x="368.53" y="168.15" width="9.00" height="1.50" fill="#f26a61"/>
<rect x="368.53" y="171.25" width="9.00" height="1.50" fill="#f26a61"/>
<rect x="368.53" y="174.25" width="9.00" height="1.50" fill="#1db4ba"/>
<rect x="368.53" y="179.75" width="9.00" height="1.50" fill="#f26a61"/>
<rect x="368.53" y="196.95" width="9.00" height="1.50" fill="#1db4ba"/>
<rect x="368.53" y="198.75" width="9.00" height="1.50" fill="#1db4ba"/>
<rect x="368.53" y="218.95" width="9.00" height="1.50" fill="#1db4ba"/>
<rect x="368.53" y="227.45" width="9.00" height="1.50" fill="#f26a61"/>
<rect x="368.53" y="228.75" width="9.00" height="1.50" fill="#f26a61"/>
<rect x="368.53" y="245.25" width="9.00" height="1.50" fill="#1db4ba"/>
<rect x="368.53" y="255.45" width="9.00" height="1.50" fill="#1db4ba"/>
<rect x="368.53" y="260.55" width="9.00" height="1.50" fill="#f26a61"/>
<text transform="translate(371.23,428.3) rotate(90)" text-anchor="end" font-size="7.5" fill="#333">chr14</text>
<rect x="381.32" y="39.40" width="8.00" height="208.40" fill="#fff" stroke="none"/>
<rect x="381.37" y="39.40" width="7.90" height="208.40" fill="none" stroke="#4a4a4a" stroke-width="1.1"/>
<rect x="380.82" y="45.15" width="9.00" height="1.50" fill="#1db4ba"/>
<rect x="380.82" y="56.15" width="9.00" height="1.50" fill="#f26a61"/>
<rect x="380.82" y="62.35" width="9.00" height="1.50" fill="#1db4ba"/>
<rect x="380.82" y="63.55" width="9.00" height="1.50" fill="#1db4ba"/>
<rect x="380.82" y="66.55" width="9.00" height="1.50" fill="#1db4ba"/>
<rect x="380.82" y="68.45" width="9.00" height="1.50" fill="#f26a61"/>
<rect x="380.82" y="70.85" width="9.00" height="1.50" fill="#f26a61"/>
<rect x="380.82" y="73.95" width="9.00" height="1.50" fill="#1db4ba"/>
<rect x="380.82" y="76.35" width="9.00" height="1.50" fill="#1db4ba"/>
<rect x="380.82" y="79.45" width="9.00" height="1.50" fill="#f26a61"/>
<rect x="380.82" y="81.25" width="9.00" height="1.50" fill="#1db4ba"/>
<rect x="380.82" y="84.35" width="9.00" height="1.50" fill="#1db4ba"/>
<rect x="380.82" y="90.45" width="9.00" height="1.50" fill="#f26a61"/>
<rect x="380.82" y="91.65" width="9.00" height="1.50" fill="#1db4ba"/>
<rect x="380.82" y="94.75" width="9.00" height="1.50" fill="#f26a61"/>
<rect x="380.82" y="96.55" width="9.00" height="1.50" fill="#1db4ba"/>
<rect x="380.82" y="99.05" width="9.00" height="1.50" fill="#f26a61"/>
<rect x="380.82" y="106.95" width="9.00" height="1.50" fill="#f26a61"/>
<rect x="380.82" y="122.25" width="9.00" height="1.50" fill="#f26a61"/>
<rect x="380.82" y="125.95" width="9.00" height="1.50" fill="#1db4ba"/>
<rect x="380.82" y="128.95" width="9.00" height="1.50" fill="#1db4ba"/>
<rect x="380.82" y="132.65" width="9.00" height="1.50" fill="#f26a61"/>
<rect x="380.82" y="135.05" width="9.00" height="1.50" fill="#1db4ba"/>
<rect x="380.82" y="137.55" width="9.00" height="1.50" fill="#1db4ba"/>
<rect x="380.82" y="139.35" width="9.00" height="1.50" fill="#f26a61"/>
<rect x="380.82" y="143.05" width="9.00" height="1.50" fill="#1db4ba"/>
<rect x="380.82" y="149.85" width="9.00" height="1.50" fill="#1db4ba"/>
<rect x="380.82" y="151.65" width="9.00" height="1.50" fill="#1db4ba"/>
<rect x="380.82" y="152.85" width="9.00" height="1.50" fill="#1db4ba"/>
<rect x="380.82" y="154.65" width="9.00" height="1.50" fill="#1db4ba"/>
<rect x="380.82" y="160.15" width="9.00" height="1.50" fill="#f26a61"/>
<rect x="380.82" y="162.65" width="9.00" height="1.50" fill="#1db4ba"/>
<rect x="380.82" y="165.65" width="9.00" height="1.50" fill="#f26a61"/>
<rect x="380.82" y="167.55" width="9.00" height="1.50" fill="#f26a61"/>
<rect x="380.82" y="171.25" width="9.00" height="1.50" fill="#f26a61"/>
<rect x="380.82" y="173.65" width="9.00" height="1.50" fill="#1db4ba"/>
<rect x="380.82" y="187.05" width="9.00" height="1.50" fill="#1db4ba"/>
<rect x="380.82" y="190.75" width="9.00" height="1.50" fill="#f26a61"/>
<rect x="380.82" y="201.15" width="9.00" height="1.50" fill="#f26a61"/>
<rect x="380.82" y="205.45" width="9.00" height="1.50" fill="#f26a61"/>
<rect x="380.82" y="206.65" width="9.00" height="1.50" fill="#f26a61"/>
<rect x="380.82" y="209.75" width="9.00" height="1.50" fill="#1db4ba"/>
<rect x="380.82" y="215.85" width="9.00" height="1.50" fill="#1db4ba"/>
<rect x="380.82" y="217.65" width="9.00" height="1.50" fill="#f26a61"/>
<rect x="380.82" y="219.55" width="9.00" height="1.50" fill="#1db4ba"/>
<rect x="380.82" y="221.95" width="9.00" height="1.50" fill="#1db4ba"/>
<rect x="380.82" y="223.25" width="9.00" height="1.50" fill="#1db4ba"/>
<rect x="380.82" y="228.75" width="9.00" height="1.50" fill="#1db4ba"/>
<rect x="380.82" y="236.05" width="9.00" height="1.50" fill="#1db4ba"/>
<rect x="380.82" y="243.95" width="9.00" height="1.50" fill="#f26a61"/>
<rect x="380.82" y="246.45" width="9.00" height="1.50" fill="#f26a61"/>
<text transform="translate(383.52,428.3) rotate(90)" text-anchor="end" font-size="7.5" fill="#333">chr13</text>
<rect x="393.61" y="39.40" width="8.00" height="216.90" fill="#fff" stroke="none"/>
<rect x="393.66" y="39.40" width="7.90" height="216.90" fill="none" stroke="#4a4a4a" stroke-width="1.1"/>
<rect x="393.11" y="45.85" width="9.00" height="1.50" fill="#1db4ba"/>
<rect x="393.11" y="47.65" width="9.00" height="1.50" fill="#f26a61"/>
<rect x="393.11" y="54.35" width="9.00" height="1.50" fill="#f26a61"/>
<rect x="393.11" y="59.25" width="9.00" height="1.50" fill="#1db4ba"/>
<rect x="393.11" y="60.45" width="9.00" height="1.50" fill="#f26a61"/>
<rect x="393.11" y="69.65" width="9.00" height="1.50" fill="#f26a61"/>
<rect x="393.11" y="73.95" width="9.00" height="1.50" fill="#1db4ba"/>
<rect x="393.11" y="76.95" width="9.00" height="1.50" fill="#1db4ba"/>
<rect x="393.11" y="84.95" width="9.00" height="1.50" fill="#1db4ba"/>
<rect x="393.11" y="86.15" width="9.00" height="1.50" fill="#1db4ba"/>
<rect x="393.11" y="87.35" width="9.00" height="1.50" fill="#f26a61"/>
<rect x="393.11" y="91.05" width="9.00" height="1.50" fill="#1db4ba"/>
<rect x="393.11" y="95.35" width="9.00" height="1.50" fill="#1db4ba"/>
<rect x="393.11" y="97.15" width="9.00" height="1.50" fill="#1db4ba"/>
<rect x="393.11" y="99.65" width="9.00" height="1.50" fill="#f26a61"/>
<rect x="393.11" y="101.45" width="9.00" height="1.50" fill="#f26a61"/>
<rect x="393.11" y="103.95" width="9.00" height="1.50" fill="#f26a61"/>
<rect x="393.11" y="119.25" width="9.00" height="1.50" fill="#f26a61"/>
<rect x="393.11" y="132.05" width="9.00" height="1.50" fill="#1db4ba"/>
<rect x="393.11" y="135.05" width="9.00" height="1.50" fill="#f26a61"/>
<rect x="393.11" y="137.55" width="9.00" height="1.50" fill="#f26a61"/>
<rect x="393.11" y="157.15" width="9.00" height="1.50" fill="#1db4ba"/>
<rect x="393.11" y="164.45" width="9.00" height="1.50" fill="#1db4ba"/>
<rect x="393.11" y="166.95" width="9.00" height="1.50" fill="#f26a61"/>
<rect x="393.11" y="174.85" width="9.00" height="1.50" fill="#1db4ba"/>
<rect x="393.11" y="177.95" width="9.00" height="1.50" fill="#1db4ba"/>
<rect x="393.11" y="180.35" width="9.00" height="1.50" fill="#1db4ba"/>
<rect x="393.11" y="183.45" width="9.00" height="1.50" fill="#f26a61"/>
<rect x="393.11" y="185.85" width="9.00" height="1.50" fill="#f26a61"/>
<rect x="393.11" y="188.35" width="9.00" height="1.50" fill="#f26a61"/>
<rect x="393.11" y="191.35" width="9.00" height="1.50" fill="#1db4ba"/>
<rect x="393.11" y="194.45" width="9.00" height="1.50" fill="#f26a61"/>
<rect x="393.11" y="196.25" width="9.00" height="1.50" fill="#f26a61"/>
<rect x="393.11" y="200.55" width="9.00" height="1.50" fill="#f26a61"/>
<rect x="393.11" y="203.05" width="9.00" height="1.50" fill="#f26a61"/>
<rect x="393.11" y="204.85" width="9.00" height="1.50" fill="#1db4ba"/>
<rect x="393.11" y="220.15" width="9.00" height="1.50" fill="#1db4ba"/>
<rect x="393.11" y="222.55" width="9.00" height="1.50" fill="#f26a61"/>
<rect x="393.11" y="224.45" width="9.00" height="1.50" fill="#f26a61"/>
<rect x="393.11" y="227.45" width="9.00" height="1.50" fill="#f26a61"/>
<rect x="393.11" y="229.95" width="9.00" height="1.50" fill="#1db4ba"/>
<rect x="393.11" y="232.35" width="9.00" height="1.50" fill="#1db4ba"/>
<rect x="393.11" y="234.25" width="9.00" height="1.50" fill="#1db4ba"/>
<rect x="393.11" y="236.65" width="9.00" height="1.50" fill="#f26a61"/>
<rect x="393.11" y="242.15" width="9.00" height="1.50" fill="#f26a61"/>
<rect x="393.11" y="243.35" width="9.00" height="1.50" fill="#1db4ba"/>
<rect x="393.11" y="247.05" width="9.00" height="1.50" fill="#1db4ba"/>
<rect x="393.11" y="250.05" width="9.00" height="1.50" fill="#1db4ba"/>
<rect x="393.11" y="252.55" width="9.00" height="1.50" fill="#1db4ba"/>
<rect x="393.11" y="255.05" width="9.00" height="1.50" fill="#f26a61"/>
<text transform="translate(395.81,428.3) rotate(90)" text-anchor="end" font-size="7.5" fill="#333">chr12</text>
<rect x="405.90" y="39.40" width="8.00" height="221.40" fill="#fff" stroke="none"/>
<rect x="405.95" y="39.40" width="7.90" height="221.40" fill="none" stroke="#4a4a4a" stroke-width="1.1"/>
<rect x="405.40" y="45.85" width="9.00" height="1.50" fill="#1db4ba"/>
<rect x="405.40" y="47.65" width="9.00" height="1.50" fill="#1db4ba"/>
<rect x="405.40" y="49.45" width="9.00" height="1.50" fill="#f26a61"/>
<rect x="405.40" y="55.55" width="9.00" height="1.50" fill="#1db4ba"/>
<rect x="405.40" y="60.45" width="9.00" height="1.50" fill="#f26a61"/>
<rect x="405.40" y="69.65" width="9.00" height="1.50" fill="#1db4ba"/>
<rect x="405.40" y="70.85" width="9.00" height="1.50" fill="#1db4ba"/>
<rect x="405.40" y="78.85" width="9.00" height="1.50" fill="#1db4ba"/>
<rect x="405.40" y="80.65" width="9.00" height="1.50" fill="#1db4ba"/>
<rect x="405.40" y="87.35" width="9.00" height="1.50" fill="#1db4ba"/>
<rect x="405.40" y="93.55" width="9.00" height="1.50" fill="#f26a61"/>
<rect x="405.40" y="96.55" width="9.00" height="1.50" fill="#f26a61"/>
<rect x="405.40" y="99.05" width="9.00" height="1.50" fill="#1db4ba"/>
<rect x="405.40" y="100.85" width="9.00" height="1.50" fill="#1db4ba"/>
<rect x="405.40" y="102.65" width="9.00" height="1.50" fill="#1db4ba"/>
<rect x="405.40" y="103.95" width="9.00" height="1.50" fill="#1db4ba"/>
<rect x="405.40" y="113.05" width="9.00" height="1.50" fill="#1db4ba"/>
<rect x="405.40" y="115.55" width="9.00" height="1.50" fill="#1db4ba"/>
<rect x="405.40" y="118.55" width="9.00" height="1.50" fill="#f26a61"/>
<rect x="405.40" y="122.25" width="9.00" height="1.50" fill="#f26a61"/>
<rect x="405.40" y="130.25" width="9.00" height="1.50" fill="#f26a61"/>
<rect x="405.40" y="132.05" width="9.00" height="1.50" fill="#1db4ba"/>
<rect x="405.40" y="135.05" width="9.00" height="1.50" fill="#f26a61"/>
<rect x="405.40" y="138.15" width="9.00" height="1.50" fill="#f26a61"/>
<rect x="405.40" y="142.45" width="9.00" height="1.50" fill="#1db4ba"/>
<rect x="405.40" y="144.95" width="9.00" height="1.50" fill="#f26a61"/>
<rect x="405.40" y="146.75" width="9.00" height="1.50" fill="#f26a61"/>
<rect x="405.40" y="148.55" width="9.00" height="1.50" fill="#1db4ba"/>
<rect x="405.40" y="152.25" width="9.00" height="1.50" fill="#1db4ba"/>
<rect x="405.40" y="154.65" width="9.00" height="1.50" fill="#1db4ba"/>
<rect x="405.40" y="161.45" width="9.00" height="1.50" fill="#f26a61"/>
<rect x="405.40" y="163.25" width="9.00" height="1.50" fill="#f26a61"/>
<rect x="405.40" y="164.45" width="9.00" height="1.50" fill="#1db4ba"/>
<rect x="405.40" y="166.95" width="9.00" height="1.50" fill="#f26a61"/>
<rect x="405.40" y="169.35" width="9.00" height="1.50" fill="#f26a61"/>
<rect x="405.40" y="171.85" width="9.00" height="1.50" fill="#f26a61"/>
<rect x="405.40" y="173.65" width="9.00" height="1.50" fill="#1db4ba"/>
<rect x="405.40" y="177.95" width="9.00" height="1.50" fill="#f26a61"/>
<rect x="405.40" y="179.75" width="9.00" height="1.50" fill="#f26a61"/>
<rect x="405.40" y="181.55" width="9.00" height="1.50" fill="#1db4ba"/>
<rect x="405.40" y="183.45" width="9.00" height="1.50" fill="#f26a61"/>
<rect x="405.40" y="186.45" width="9.00" height="1.50" fill="#1db4ba"/>
<rect x="405.40" y="188.35" width="9.00" height="1.50" fill="#1db4ba"/>
<rect x="405.40" y="191.35" width="9.00" height="1.50" fill="#f26a61"/>
<rect x="405.40" y="193.85" width="9.00" height="1.50" fill="#1db4ba"/>
<rect x="405.40" y="195.65" width="9.00" height="1.50" fill="#1db4ba"/>
<rect x="405.40" y="197.55" width="9.00" height="1.50" fill="#1db4ba"/>
<rect x="405.40" y="199.35" width="9.00" height="1.50" fill="#f26a61"/>
<rect x="405.40" y="201.85" width="9.00" height="1.50" fill="#1db4ba"/>
<rect x="405.40" y="210.35" width="9.00" height="1.50" fill="#1db4ba"/>
<rect x="405.40" y="212.25" width="9.00" height="1.50" fill="#1db4ba"/>
<rect x="405.40" y="214.65" width="9.00" height="1.50" fill="#f26a61"/>
<rect x="405.40" y="217.05" width="9.00" height="1.50" fill="#f26a61"/>
<rect x="405.40" y="218.95" width="9.00" height="1.50" fill="#f26a61"/>
<rect x="405.40" y="220.75" width="9.00" height="1.50" fill="#1db4ba"/>
<rect x="405.40" y="222.55" width="9.00" height="1.50" fill="#f26a61"/>
<rect x="405.40" y="226.25" width="9.00" height="1.50" fill="#1db4ba"/>
<rect x="405.40" y="228.75" width="9.00" height="1.50" fill="#f26a61"/>
<rect x="405.40" y="230.55" width="9.00" height="1.50" fill="#1db4ba"/>
<rect x="405.40" y="232.95" width="9.00" height="1.50" fill="#f26a61"/>
<rect x="405.40" y="234.25" width="9.00" height="1.50" fill="#1db4ba"/>
<rect x="405.40" y="236.05" width="9.00" height="1.50" fill="#f26a61"/>
<rect x="405.40" y="237.85" width="9.00" height="1.50" fill="#f26a61"/>
<rect x="405.40" y="247.05" width="9.00" height="1.50" fill="#f26a61"/>
<rect x="405.40" y="248.45" width="9.00" height="1.50" fill="#f26a61"/>
<rect x="405.40" y="250.05" width="9.00" height="1.50" fill="#f26a61"/>
<rect x="405.40" y="252.55" width="9.00" height="1.50" fill="#1db4ba"/>
<rect x="405.40" y="254.25" width="9.00" height="1.50" fill="#1db4ba"/>
<rect x="405.40" y="256.75" width="9.00" height="1.50" fill="#f26a61"/>
<rect x="405.40" y="258.45" width="9.00" height="1.50" fill="#f26a61"/>
<rect x="405.40" y="259.55" width="9.00" height="1.50" fill="#f26a61"/>
<text transform="translate(408.10,428.3) rotate(90)" text-anchor="end" font-size="7.5" fill="#333">chr11</text>
<rect x="418.19" y="39.40" width="8.00" height="238.10" fill="#fff" stroke="none"/>
<rect x="418.24" y="39.40" width="7.90" height="238.10" fill="none" stroke="#4a4a4a" stroke-width="1.1"/>
<rect x="417.69" y="45.25" width="9.00" height="1.50" fill="#f26a61"/>
<rect x="417.69" y="47.65" width="9.00" height="1.50" fill="#f26a61"/>
<rect x="417.69" y="50.05" width="9.00" height="1.50" fill="#1db4ba"/>
<rect x="417.69" y="52.55" width="9.00" height="1.50" fill="#1db4ba"/>
<rect x="417.69" y="59.25" width="9.00" height="1.50" fill="#f26a61"/>
<rect x="417.69" y="64.15" width="9.00" height="1.50" fill="#f26a61"/>
<rect x="417.69" y="71.45" width="9.00" height="1.50" fill="#f26a61"/>
<rect x="417.69" y="73.35" width="9.00" height="1.50" fill="#f26a61"/>
<rect x="417.69" y="75.75" width="9.00" height="1.50" fill="#1db4ba"/>
<rect x="417.69" y="77.55" width="9.00" height="1.50" fill="#1db4ba"/>
<rect x="417.69" y="79.45" width="9.00" height="1.50" fill="#1db4ba"/>
<rect x="417.69" y="83.75" width="9.00" height="1.50" fill="#f26a61"/>
<rect x="417.69" y="87.95" width="9.00" height="1.50" fill="#f26a61"/>
<rect x="417.69" y="89.55" width="9.00" height="1.50" fill="#1db4ba"/>
<rect x="417.69" y="92.35" width="9.00" height="1.50" fill="#1db4ba"/>
<rect x="417.69" y="94.75" width="9.00" height="1.50" fill="#1db4ba"/>
<rect x="417.69" y="99.05" width="9.00" height="1.50" fill="#f26a61"/>
<rect x="417.69" y="102.05" width="9.00" height="1.50" fill="#1db4ba"/>
<rect x="417.69" y="105.15" width="9.00" height="1.50" fill="#1db4ba"/>
<rect x="417.69" y="111.25" width="9.00" height="1.50" fill="#f26a61"/>
<rect x="417.69" y="113.05" width="9.00" height="1.50" fill="#1db4ba"/>
<rect x="417.69" y="114.95" width="9.00" height="1.50" fill="#1db4ba"/>
<rect x="417.69" y="117.35" width="9.00" height="1.50" fill="#f26a61"/>
<rect x="417.69" y="119.25" width="9.00" height="1.50" fill="#1db4ba"/>
<rect x="417.69" y="130.85" width="9.00" height="1.50" fill="#f26a61"/>
<rect x="417.69" y="133.85" width="9.00" height="1.50" fill="#1db4ba"/>
<rect x="417.69" y="140.55" width="9.00" height="1.50" fill="#f26a61"/>
<rect x="417.69" y="142.45" width="9.00" height="1.50" fill="#1db4ba"/>
<rect x="417.69" y="146.15" width="9.00" height="1.50" fill="#f26a61"/>
<rect x="417.69" y="148.55" width="9.00" height="1.50" fill="#f26a61"/>
<rect x="417.69" y="151.05" width="9.00" height="1.50" fill="#1db4ba"/>
<rect x="417.69" y="157.15" width="9.00" height="1.50" fill="#1db4ba"/>
<rect x="417.69" y="161.45" width="9.00" height="1.50" fill="#f26a61"/>
<rect x="417.69" y="163.85" width="9.00" height="1.50" fill="#f26a61"/>
<rect x="417.69" y="166.95" width="9.00" height="1.50" fill="#f26a61"/>
<rect x="417.69" y="170.55" width="9.00" height="1.50" fill="#1db4ba"/>
<rect x="417.69" y="177.95" width="9.00" height="1.50" fill="#f26a61"/>
<rect x="417.69" y="180.35" width="9.00" height="1.50" fill="#f26a61"/>
<rect x="417.69" y="183.45" width="9.00" height="1.50" fill="#1db4ba"/>
<rect x="417.69" y="185.25" width="9.00" height="1.50" fill="#1db4ba"/>
<rect x="417.69" y="187.05" width="9.00" height="1.50" fill="#f26a61"/>
<rect x="417.69" y="189.55" width="9.00" height="1.50" fill="#f26a61"/>
<rect x="417.69" y="192.55" width="9.00" height="1.50" fill="#f26a61"/>
<rect x="417.69" y="194.75" width="9.00" height="1.50" fill="#f26a61"/>
<rect x="417.69" y="196.95" width="9.00" height="1.50" fill="#f26a61"/>
<rect x="417.69" y="198.75" width="9.00" height="1.50" fill="#1db4ba"/>
<rect x="417.69" y="202.45" width="9.00" height="1.50" fill="#1db4ba"/>
<rect x="417.69" y="204.85" width="9.00" height="1.50" fill="#1db4ba"/>
<rect x="417.69" y="209.75" width="9.00" height="1.50" fill="#f26a61"/>
<rect x="417.69" y="211.55" width="9.00" height="1.50" fill="#f26a61"/>
<rect x="417.69" y="214.05" width="9.00" height="1.50" fill="#f26a61"/>
<rect x="417.69" y="215.85" width="9.00" height="1.50" fill="#f26a61"/>
<rect x="417.69" y="220.15" width="9.00" height="1.50" fill="#1db4ba"/>
<rect x="417.69" y="229.95" width="9.00" height="1.50" fill="#f26a61"/>
<rect x="417.69" y="232.95" width="9.00" height="1.50" fill="#f26a61"/>
<rect x="417.69" y="239.75" width="9.00" height="1.50" fill="#1db4ba"/>
<rect x="417.69" y="249.25" width="9.00" height="1.50" fill="#1db4ba"/>
<rect x="417.69" y="250.95" width="9.00" height="1.50" fill="#1db4ba"/>
<rect x="417.69" y="252.95" width="9.00" height="1.50" fill="#f26a61"/>
<rect x="417.69" y="255.05" width="9.00" height="1.50" fill="#1db4ba"/>
<rect x="417.69" y="257.55" width="9.00" height="1.50" fill="#1db4ba"/>
<rect x="417.69" y="259.25" width="9.00" height="1.50" fill="#f26a61"/>
<rect x="417.69" y="260.95" width="9.00" height="1.50" fill="#f26a61"/>
<rect x="417.69" y="262.55" width="9.00" height="1.50" fill="#1db4ba"/>
<rect x="417.69" y="270.05" width="9.00" height="1.50" fill="#f26a61"/>
<rect x="417.69" y="273.45" width="9.00" height="1.50" fill="#f26a61"/>
<rect x="417.69" y="276.25" width="9.00" height="1.50" fill="#1db4ba"/>
<text transform="translate(420.39,428.3) rotate(90)" text-anchor="end" font-size="7.5" fill="#333">chr10</text>
<rect x="430.48" y="39.40" width="8.00" height="227.30" fill="#fff" stroke="none"/>
<rect x="430.53" y="39.40" width="7.90" height="227.30" fill="none" stroke="#4a4a4a" stroke-width="1.1"/>
<rect x="429.98" y="48.85" width="9.00" height="1.50" fill="#f26a61"/>
<rect x="429.98" y="53.15" width="9.00" height="1.50" fill="#1db4ba"/>
<rect x="429.98" y="66.55" width="9.00" height="1.50" fill="#f26a61"/>
<rect x="429.98" y="76.95" width="9.00" height="1.50" fill="#1db4ba"/>
<rect x="429.98" y="79.45" width="9.00" height="1.50" fill="#f26a61"/>
<rect x="429.98" y="85.55" width="9.00" height="1.50" fill="#f26a61"/>
<rect x="429.98" y="87.95" width="9.00" height="1.50" fill="#1db4ba"/>
<rect x="429.98" y="90.45" width="9.00" height="1.50" fill="#f26a61"/>
<rect x="429.98" y="94.75" width="9.00" height="1.50" fill="#f26a61"/>
<rect x="429.98" y="98.45" width="9.00" height="1.50" fill="#1db4ba"/>
<rect x="429.98" y="106.35" width="9.00" height="1.50" fill="#f26a61"/>
<rect x="429.98" y="112.45" width="9.00" height="1.50" fill="#f26a61"/>
<rect x="429.98" y="119.25" width="9.00" height="1.50" fill="#1db4ba"/>
<rect x="429.98" y="122.25" width="9.00" height="1.50" fill="#f26a61"/>
<rect x="429.98" y="125.95" width="9.00" height="1.50" fill="#1db4ba"/>
<rect x="429.98" y="129.55" width="9.00" height="1.50" fill="#f26a61"/>
<rect x="429.98" y="131.45" width="9.00" height="1.50" fill="#f26a61"/>
<rect x="429.98" y="135.75" width="9.00" height="1.50" fill="#f26a61"/>
<rect x="429.98" y="138.15" width="9.00" height="1.50" fill="#1db4ba"/>
<rect x="429.98" y="140.55" width="9.00" height="1.50" fill="#f26a61"/>
<rect x="429.98" y="142.75" width="9.00" height="1.50" fill="#f26a61"/>
<rect x="429.98" y="144.95" width="9.00" height="1.50" fill="#f26a61"/>
<rect x="429.98" y="146.75" width="9.00" height="1.50" fill="#f26a61"/>
<rect x="429.98" y="150.45" width="9.00" height="1.50" fill="#1db4ba"/>
<rect x="429.98" y="152.85" width="9.00" height="1.50" fill="#1db4ba"/>
<rect x="429.98" y="155.35" width="9.00" height="1.50" fill="#f26a61"/>
<rect x="429.98" y="157.15" width="9.00" height="1.50" fill="#1db4ba"/>
<rect x="429.98" y="160.85" width="9.00" height="1.50" fill="#f26a61"/>
<rect x="429.98" y="163.25" width="9.00" height="1.50" fill="#f26a61"/>
<rect x="429.98" y="165.65" width="9.00" height="1.50" fill="#1db4ba"/>
<rect x="429.98" y="167.55" width="9.00" height="1.50" fill="#1db4ba"/>
<rect x="429.98" y="169.35" width="9.00" height="1.50" fill="#f26a61"/>
<rect x="429.98" y="171.85" width="9.00" height="1.50" fill="#f26a61"/>
<rect x="429.98" y="174.25" width="9.00" height="1.50" fill="#1db4ba"/>
<rect x="429.98" y="177.35" width="9.00" height="1.50" fill="#f26a61"/>
<rect x="429.98" y="180.35" width="9.00" height="1.50" fill="#1db4ba"/>
<rect x="429.98" y="183.45" width="9.00" height="1.50" fill="#f26a61"/>
<rect x="429.98" y="185.85" width="9.00" height="1.50" fill="#1db4ba"/>
<rect x="429.98" y="188.35" width="9.00" height="1.50" fill="#f26a61"/>
<rect x="429.98" y="190.75" width="9.00" height="1.50" fill="#1db4ba"/>
<rect x="429.98" y="193.25" width="9.00" height="1.50" fill="#f26a61"/>
<rect x="429.98" y="195.05" width="9.00" height="1.50" fill="#1db4ba"/>
<rect x="429.98" y="199.95" width="9.00" height="1.50" fill="#1db4ba"/>
<rect x="429.98" y="203.05" width="9.00" height="1.50" fill="#f26a61"/>
<rect x="429.98" y="204.25" width="9.00" height="1.50" fill="#1db4ba"/>
<rect x="429.98" y="207.95" width="9.00" height="1.50" fill="#1db4ba"/>
<rect x="429.98" y="213.45" width="9.00" height="1.50" fill="#1db4ba"/>
<rect x="429.98" y="222.55" width="9.00" height="1.50" fill="#f26a61"/>
<rect x="429.98" y="224.45" width="9.00" height="1.50" fill="#f26a61"/>
<rect x="429.98" y="227.45" width="9.00" height="1.50" fill="#f26a61"/>
<rect x="429.98" y="229.35" width="9.00" height="1.50" fill="#1db4ba"/>
<rect x="429.98" y="232.35" width="9.00" height="1.50" fill="#f26a61"/>
<rect x="429.98" y="235.45" width="9.00" height="1.50" fill="#f26a61"/>
<rect x="429.98" y="236.65" width="9.00" height="1.50" fill="#1db4ba"/>
<rect x="429.98" y="239.05" width="9.00" height="1.50" fill="#f26a61"/>
<rect x="429.98" y="240.95" width="9.00" height="1.50" fill="#f26a61"/>
<rect x="429.98" y="242.75" width="9.00" height="1.50" fill="#1db4ba"/>
<rect x="429.98" y="245.25" width="9.00" height="1.50" fill="#f26a61"/>
<rect x="429.98" y="247.05" width="9.00" height="1.50" fill="#f26a61"/>
<rect x="429.98" y="248.45" width="9.00" height="1.50" fill="#1db4ba"/>
<rect x="429.98" y="250.95" width="9.00" height="1.50" fill="#f26a61"/>
<rect x="429.98" y="253.45" width="9.00" height="1.50" fill="#1db4ba"/>
<rect x="429.98" y="255.95" width="9.00" height="1.50" fill="#f26a61"/>
<rect x="429.98" y="257.55" width="9.00" height="1.50" fill="#f26a61"/>
<rect x="429.98" y="259.25" width="9.00" height="1.50" fill="#1db4ba"/>
<rect x="429.98" y="260.95" width="9.00" height="1.50" fill="#f26a61"/>
<rect x="429.98" y="263.45" width="9.00" height="1.50" fill="#1db4ba"/>
<rect x="429.98" y="265.25" width="9.00" height="1.50" fill="#f26a61"/>
<text transform="translate(432.68,428.3) rotate(90)" text-anchor="end" font-size="7.5" fill="#333">chr9</text>
<rect x="442.77" y="39.40" width="8.00" height="231.10" fill="#fff" stroke="none"/>
<rect x="442.82" y="39.40" width="7.90" height="231.10" fill="none" stroke="#4a4a4a" stroke-width="1.1"/>
<rect x="442.27" y="45.25" width="9.00" height="1.50" fill="#f26a61"/>
<rect x="442.27" y="47.25" width="9.00" height="1.50" fill="#1db4ba"/>
<rect x="442.27" y="60.25" width="9.00" height="1.50" fill="#f26a61"/>
<rect x="442.27" y="62.25" width="9.00" height="1.50" fill="#f26a61"/>
<rect x="442.27" y="65.25" width="9.00" height="1.50" fill="#f26a61"/>
<rect x="442.27" y="73.25" width="9.00" height="1.50" fill="#1db4ba"/>
<rect x="442.27" y="76.25" width="9.00" height="1.50" fill="#f26a61"/>
<rect x="442.27" y="79.25" width="9.00" height="1.50" fill="#1db4ba"/>
<rect x="442.27" y="82.25" width="9.00" height="1.50" fill="#f26a61"/>
<rect x="442.27" y="85.25" width="9.00" height="1.50" fill="#1db4ba"/>
<rect x="442.27" y="87.25" width="9.00" height="1.50" fill="#1db4ba"/>
<rect x="442.27" y="95.25" width="9.00" height="1.50" fill="#f26a61"/>
<rect x="442.27" y="99.25" width="9.00" height="1.50" fill="#1db4ba"/>
<rect x="442.27" y="101.25" width="9.00" height="1.50" fill="#1db4ba"/>
<rect x="442.27" y="104.25" width="9.00" height="1.50" fill="#f26a61"/>
<rect x="442.27" y="113.25" width="9.00" height="1.50" fill="#f26a61"/>
<rect x="442.27" y="115.25" width="9.00" height="1.50" fill="#f26a61"/>
<rect x="442.27" y="119.25" width="9.00" height="1.50" fill="#1db4ba"/>
<rect x="442.27" y="123.25" width="9.00" height="1.50" fill="#f26a61"/>
<rect x="442.27" y="125.25" width="9.00" height="1.50" fill="#f26a61"/>
<rect x="442.27" y="136.25" width="9.00" height="1.50" fill="#1db4ba"/>
<rect x="442.27" y="139.25" width="9.00" height="1.50" fill="#f26a61"/>
<rect x="442.27" y="143.25" width="9.00" height="1.50" fill="#1db4ba"/>
<rect x="442.27" y="150.25" width="9.00" height="1.50" fill="#f26a61"/>
<rect x="442.27" y="162.25" width="9.00" height="1.50" fill="#f26a61"/>
<rect x="442.27" y="164.25" width="9.00" height="1.50" fill="#f26a61"/>
<rect x="442.27" y="167.25" width="9.00" height="1.50" fill="#f26a61"/>
<rect x="442.27" y="169.25" width="9.00" height="1.50" fill="#f26a61"/>
<rect x="442.27" y="175.25" width="9.00" height="1.50" fill="#1db4ba"/>
<rect x="442.27" y="178.25" width="9.00" height="1.50" fill="#f26a61"/>
<rect x="442.27" y="181.25" width="9.00" height="1.50" fill="#1db4ba"/>
<rect x="442.27" y="184.25" width="9.00" height="1.50" fill="#1db4ba"/>
<rect x="442.27" y="187.25" width="9.00" height="1.50" fill="#f26a61"/>
<rect x="442.27" y="191.25" width="9.00" height="1.50" fill="#f26a61"/>
<rect x="442.27" y="194.25" width="9.00" height="1.50" fill="#f26a61"/>
<rect x="442.27" y="198.25" width="9.00" height="1.50" fill="#1db4ba"/>
<rect x="442.27" y="209.25" width="9.00" height="1.50" fill="#f26a61"/>
<rect x="442.27" y="211.25" width="9.00" height="1.50" fill="#1db4ba"/>
<rect x="442.27" y="229.55" width="9.00" height="1.50" fill="#f26a61"/>
<rect x="442.27" y="231.35" width="9.00" height="1.50" fill="#1db4ba"/>
<rect x="442.27" y="233.85" width="9.00" height="1.50" fill="#f26a61"/>
<rect x="442.27" y="235.65" width="9.00" height="1.50" fill="#1db4ba"/>
<rect x="442.27" y="240.55" width="9.00" height="1.50" fill="#f26a61"/>
<rect x="442.27" y="243.55" width="9.00" height="1.50" fill="#1db4ba"/>
<rect x="442.27" y="249.05" width="9.00" height="1.50" fill="#f26a61"/>
<rect x="442.27" y="250.25" width="9.00" height="1.50" fill="#f26a61"/>
<rect x="442.27" y="254.55" width="9.00" height="1.50" fill="#f26a61"/>
<rect x="442.27" y="257.05" width="9.00" height="1.50" fill="#1db4ba"/>
<rect x="442.27" y="258.25" width="9.00" height="1.50" fill="#1db4ba"/>
<rect x="442.27" y="261.25" width="9.00" height="1.50" fill="#f26a61"/>
<rect x="442.27" y="262.55" width="9.00" height="1.50" fill="#f26a61"/>
<rect x="442.27" y="264.95" width="9.00" height="1.50" fill="#1db4ba"/>
<rect x="442.27" y="266.85" width="9.00" height="1.50" fill="#f26a61"/>
<rect x="442.27" y="268.55" width="9.00" height="1.50" fill="#1db4ba"/>
<text transform="translate(444.97,428.3) rotate(90)" text-anchor="end" font-size="7.5" fill="#333">chr8</text>
<rect x="455.06" y="39.40" width="8.00" height="264.50" fill="#fff" stroke="none"/>
<rect x="455.11" y="39.40" width="7.90" height="264.50" fill="none" stroke="#4a4a4a" stroke-width="1.1"/>
<rect x="454.56" y="45.25" width="9.00" height="1.50" fill="#f26a61"/>
<rect x="454.56" y="49.25" width="9.00" height="1.50" fill="#f26a61"/>
<rect x="454.56" y="57.25" width="9.00" height="1.50" fill="#1db4ba"/>
<rect x="454.56" y="59.25" width="9.00" height="1.50" fill="#1db4ba"/>
<rect x="454.56" y="61.25" width="9.00" height="1.50" fill="#1db4ba"/>
<rect x="454.56" y="63.25" width="9.00" height="1.50" fill="#f26a61"/>
<rect x="454.56" y="72.25" width="9.00" height="1.50" fill="#f26a61"/>
<rect x="454.56" y="74.25" width="9.00" height="1.50" fill="#f26a61"/>
<rect x="454.56" y="77.25" width="9.00" height="1.50" fill="#1db4ba"/>
<rect x="454.56" y="84.25" width="9.00" height="1.50" fill="#f26a61"/>
<rect x="454.56" y="86.25" width="9.00" height="1.50" fill="#f26a61"/>
<rect x="454.56" y="89.25" width="9.00" height="1.50" fill="#f26a61"/>
<rect x="454.56" y="91.25" width="9.00" height="1.50" fill="#f26a61"/>
<rect x="454.56" y="94.25" width="9.00" height="1.50" fill="#1db4ba"/>
<rect x="454.56" y="98.25" width="9.00" height="1.50" fill="#f26a61"/>
<rect x="454.56" y="103.25" width="9.00" height="1.50" fill="#1db4ba"/>
<rect x="454.56" y="106.25" width="9.00" height="1.50" fill="#1db4ba"/>
<rect x="454.56" y="109.25" width="9.00" height="1.50" fill="#f26a61"/>
<rect x="454.56" y="118.25" width="9.00" height="1.50" fill="#f26a61"/>
<rect x="454.56" y="120.25" width="9.00" height="1.50" fill="#f26a61"/>
<rect x="454.56" y="122.25" width="9.00" height="1.50" fill="#1db4ba"/>
<rect x="454.56" y="125.25" width="9.00" height="1.50" fill="#f26a61"/>
<rect x="454.56" y="128.25" width="9.00" height="1.50" fill="#f26a61"/>
<rect x="454.56" y="133.25" width="9.00" height="1.50" fill="#1db4ba"/>
<rect x="454.56" y="137.25" width="9.00" height="1.50" fill="#f26a61"/>
<rect x="454.56" y="144.25" width="9.00" height="1.50" fill="#1db4ba"/>
<rect x="454.56" y="152.25" width="9.00" height="1.50" fill="#1db4ba"/>
<rect x="454.56" y="154.25" width="9.00" height="1.50" fill="#f26a61"/>
<rect x="454.56" y="159.25" width="9.00" height="1.50" fill="#f26a61"/>
<rect x="454.56" y="163.25" width="9.00" height="1.50" fill="#1db4ba"/>
<rect x="454.56" y="167.25" width="9.00" height="1.50" fill="#f26a61"/>
<rect x="454.56" y="170.25" width="9.00" height="1.50" fill="#1db4ba"/>
<rect x="454.56" y="173.25" width="9.00" height="1.50" fill="#f26a61"/>
<rect x="454.56" y="184.25" width="9.00" height="1.50" fill="#1db4ba"/>
<rect x="454.56" y="186.25" width="9.00" height="1.50" fill="#1db4ba"/>
<rect x="454.56" y="191.25" width="9.00" height="1.50" fill="#f26a61"/>
<rect x="454.56" y="194.25" width="9.00" height="1.50" fill="#1db4ba"/>
<rect x="454.56" y="197.25" width="9.00" height="1.50" fill="#1db4ba"/>
<rect x="454.56" y="202.25" width="9.00" height="1.50" fill="#f26a61"/>
<rect x="454.56" y="204.25" width="9.00" height="1.50" fill="#f26a61"/>
<rect x="454.56" y="206.25" width="9.00" height="1.50" fill="#f26a61"/>
<rect x="454.56" y="213.25" width="9.00" height="1.50" fill="#1db4ba"/>
<rect x="454.56" y="214.85" width="9.00" height="1.50" fill="#f26a61"/>
<rect x="454.56" y="217.25" width="9.00" height="1.50" fill="#1db4ba"/>
<rect x="454.56" y="219.15" width="9.00" height="1.50" fill="#f26a61"/>
<rect x="454.56" y="220.35" width="9.00" height="1.50" fill="#1db4ba"/>
<rect x="454.56" y="222.85" width="9.00" height="1.50" fill="#f26a61"/>
<rect x="454.56" y="224.05" width="9.00" height="1.50" fill="#f26a61"/>
<rect x="454.56" y="226.45" width="9.00" height="1.50" fill="#1db4ba"/>
<rect x="454.56" y="229.55" width="9.00" height="1.50" fill="#f26a61"/>
<rect x="454.56" y="231.35" width="9.00" height="1.50" fill="#1db4ba"/>
<rect x="454.56" y="235.05" width="9.00" height="1.50" fill="#f26a61"/>
<rect x="454.56" y="236.85" width="9.00" height="1.50" fill="#f26a61"/>
<rect x="454.56" y="239.35" width="9.00" height="1.50" fill="#f26a61"/>
<rect x="454.56" y="242.35" width="9.00" height="1.50" fill="#1db4ba"/>
<rect x="454.56" y="243.55" width="9.00" height="1.50" fill="#f26a61"/>
<rect x="454.56" y="245.45" width="9.00" height="1.50" fill="#1db4ba"/>
<rect x="454.56" y="247.85" width="9.00" height="1.50" fill="#f26a61"/>
<rect x="454.56" y="250.95" width="9.00" height="1.50" fill="#1db4ba"/>
<rect x="454.56" y="252.75" width="9.00" height="1.50" fill="#f26a61"/>
<rect x="454.56" y="255.85" width="9.00" height="1.50" fill="#1db4ba"/>
<rect x="454.56" y="257.65" width="9.00" height="1.50" fill="#f26a61"/>
<rect x="454.56" y="260.75" width="9.00" height="1.50" fill="#1db4ba"/>
<rect x="454.56" y="263.15" width="9.00" height="1.50" fill="#f26a61"/>
<rect x="454.56" y="265.55" width="9.00" height="1.50" fill="#1db4ba"/>
<rect x="454.56" y="267.45" width="9.00" height="1.50" fill="#f26a61"/>
<rect x="454.56" y="269.75" width="9.00" height="1.50" fill="#1db4ba"/>
<rect x="454.56" y="270.95" width="9.00" height="1.50" fill="#1db4ba"/>
<rect x="454.56" y="272.15" width="9.00" height="1.50" fill="#f26a61"/>
<rect x="454.56" y="275.85" width="9.00" height="1.50" fill="#1db4ba"/>
<rect x="454.56" y="277.05" width="9.00" height="1.50" fill="#1db4ba"/>
<rect x="454.56" y="278.25" width="9.00" height="1.50" fill="#1db4ba"/>
<rect x="454.56" y="280.75" width="9.00" height="1.50" fill="#f26a61"/>
<rect x="454.56" y="285.65" width="9.00" height="1.50" fill="#1db4ba"/>
<rect x="454.56" y="291.75" width="9.00" height="1.50" fill="#1db4ba"/>
<rect x="454.56" y="293.55" width="9.00" height="1.50" fill="#1db4ba"/>
<rect x="454.56" y="295.45" width="9.00" height="1.50" fill="#f26a61"/>
<rect x="454.56" y="297.85" width="9.00" height="1.50" fill="#f26a61"/>
<rect x="454.56" y="299.65" width="9.00" height="1.50" fill="#f26a61"/>
<rect x="454.56" y="302.15" width="9.00" height="1.50" fill="#1db4ba"/>
<text transform="translate(457.26,428.3) rotate(90)" text-anchor="end" font-size="7.5" fill="#333">chr7</text>
<rect x="467.35" y="39.40" width="8.00" height="272.10" fill="#fff" stroke="none"/>
<rect x="467.40" y="39.40" width="7.90" height="272.10" fill="none" stroke="#4a4a4a" stroke-width="1.1"/>
<rect x="466.85" y="47.25" width="9.00" height="1.50" fill="#f26a61"/>
<rect x="466.85" y="49.25" width="9.00" height="1.50" fill="#1db4ba"/>
<rect x="466.85" y="54.25" width="9.00" height="1.50" fill="#1db4ba"/>
<rect x="466.85" y="66.25" width="9.00" height="1.50" fill="#f26a61"/>
<rect x="466.85" y="69.25" width="9.00" height="1.50" fill="#1db4ba"/>
<rect x="466.85" y="84.25" width="9.00" height="1.50" fill="#f26a61"/>
<rect x="466.85" y="93.25" width="9.00" height="1.50" fill="#f26a61"/>
<rect x="466.85" y="96.25" width="9.00" height="1.50" fill="#1db4ba"/>
<rect x="466.85" y="102.25" width="9.00" height="1.50" fill="#1db4ba"/>
<rect x="466.85" y="105.25" width="9.00" height="1.50" fill="#1db4ba"/>
<rect x="466.85" y="108.25" width="9.00" height="1.50" fill="#1db4ba"/>
<rect x="466.85" y="111.25" width="9.00" height="1.50" fill="#f26a61"/>
<rect x="466.85" y="114.25" width="9.00" height="1.50" fill="#f26a61"/>
<rect x="466.85" y="116.25" width="9.00" height="1.50" fill="#1db4ba"/>
<rect x="466.85" y="121.25" width="9.00" height="1.50" fill="#1db4ba"/>
<rect x="466.85" y="125.25" width="9.00" height="1.50" fill="#f26a61"/>
<rect x="466.85" y="129.25" width="9.00" height="1.50" fill="#1db4ba"/>
<rect x="466.85" y="133.25" width="9.00" height="1.50" fill="#f26a61"/>
<rect x="466.85" y="141.25" width="9.00" height="1.50" fill="#1db4ba"/>
<rect x="466.85" y="143.25" width="9.00" height="1.50" fill="#f26a61"/>
<rect x="466.85" y="146.25" width="9.00" height="1.50" fill="#f26a61"/>
<rect x="466.85" y="158.25" width="9.00" height="1.50" fill="#1db4ba"/>
<rect x="466.85" y="169.25" width="9.00" height="1.50" fill="#f26a61"/>
<rect x="466.85" y="170.75" width="9.00" height="1.50" fill="#f26a61"/>
<rect x="466.85" y="178.25" width="9.00" height="1.50" fill="#1db4ba"/>
<rect x="466.85" y="184.25" width="9.00" height="1.50" fill="#f26a61"/>
<rect x="466.85" y="191.25" width="9.00" height="1.50" fill="#f26a61"/>
<rect x="466.85" y="198.25" width="9.00" height="1.50" fill="#1db4ba"/>
<rect x="466.85" y="200.25" width="9.00" height="1.50" fill="#1db4ba"/>
<rect x="466.85" y="204.25" width="9.00" height="1.50" fill="#f26a61"/>
<rect x="466.85" y="207.25" width="9.00" height="1.50" fill="#f26a61"/>
<rect x="466.85" y="211.25" width="9.00" height="1.50" fill="#1db4ba"/>
<rect x="466.85" y="216.05" width="9.00" height="1.50" fill="#f26a61"/>
<rect x="466.85" y="223.45" width="9.00" height="1.50" fill="#f26a61"/>
<rect x="466.85" y="233.85" width="9.00" height="1.50" fill="#f26a61"/>
<rect x="466.85" y="236.85" width="9.00" height="1.50" fill="#f26a61"/>
<rect x="466.85" y="244.25" width="9.00" height="1.50" fill="#1db4ba"/>
<rect x="466.85" y="246.05" width="9.00" height="1.50" fill="#1db4ba"/>
<rect x="466.85" y="249.05" width="9.00" height="1.50" fill="#f26a61"/>
<rect x="466.85" y="250.95" width="9.00" height="1.50" fill="#1db4ba"/>
<rect x="466.85" y="252.75" width="9.00" height="1.50" fill="#f26a61"/>
<rect x="466.85" y="256.45" width="9.00" height="1.50" fill="#1db4ba"/>
<rect x="466.85" y="259.45" width="9.00" height="1.50" fill="#f26a61"/>
<rect x="466.85" y="263.15" width="9.00" height="1.50" fill="#f26a61"/>
<rect x="466.85" y="266.85" width="9.00" height="1.50" fill="#f26a61"/>
<rect x="466.85" y="269.75" width="9.00" height="1.50" fill="#1db4ba"/>
<rect x="466.85" y="272.85" width="9.00" height="1.50" fill="#f26a61"/>
<rect x="466.85" y="282.55" width="9.00" height="1.50" fill="#1db4ba"/>
<rect x="466.85" y="285.65" width="9.00" height="1.50" fill="#1db4ba"/>
<rect x="466.85" y="289.35" width="9.00" height="1.50" fill="#1db4ba"/>
<rect x="466.85" y="299.75" width="9.00" height="1.50" fill="#1db4ba"/>
<rect x="466.85" y="303.95" width="9.00" height="1.50" fill="#f26a61"/>
<rect x="466.85" y="310.05" width="9.00" height="1.50" fill="#f26a61"/>
<text transform="translate(469.55,428.3) rotate(90)" text-anchor="end" font-size="7.5" fill="#333">chr6</text>
<rect x="479.64" y="39.40" width="8.00" height="276.60" fill="#fff" stroke="none"/>
<rect x="479.69" y="39.40" width="7.90" height="276.60" fill="none" stroke="#4a4a4a" stroke-width="1.1"/>
<rect x="479.14" y="45.25" width="9.00" height="1.50" fill="#1db4ba"/>
<rect x="479.14" y="48.25" width="9.00" height="1.50" fill="#1db4ba"/>
<rect x="479.14" y="51.25" width="9.00" height="1.50" fill="#1db4ba"/>
<rect x="479.14" y="53.25" width="9.00" height="1.50" fill="#1db4ba"/>
<rect x="479.14" y="62.25" width="9.00" height="1.50" fill="#f26a61"/>
<rect x="479.14" y="65.25" width="9.00" height="1.50" fill="#f26a61"/>
<rect x="479.14" y="67.25" width="9.00" height="1.50" fill="#f26a61"/>
<rect x="479.14" y="70.25" width="9.00" height="1.50" fill="#1db4ba"/>
<rect x="479.14" y="74.25" width="9.00" height="1.50" fill="#f26a61"/>
<rect x="479.14" y="79.25" width="9.00" height="1.50" fill="#1db4ba"/>
<rect x="479.14" y="83.25" width="9.00" height="1.50" fill="#1db4ba"/>
<rect x="479.14" y="86.25" width="9.00" height="1.50" fill="#f26a61"/>
<rect x="479.14" y="95.25" width="9.00" height="1.50" fill="#f26a61"/>
<rect x="479.14" y="97.25" width="9.00" height="1.50" fill="#f26a61"/>
<rect x="479.14" y="100.25" width="9.00" height="1.50" fill="#1db4ba"/>
<rect x="479.14" y="102.25" width="9.00" height="1.50" fill="#1db4ba"/>
<rect x="479.14" y="105.25" width="9.00" height="1.50" fill="#f26a61"/>
<rect x="479.14" y="109.25" width="9.00" height="1.50" fill="#f26a61"/>
<rect x="479.14" y="114.25" width="9.00" height="1.50" fill="#1db4ba"/>
<rect x="479.14" y="118.25" width="9.00" height="1.50" fill="#f26a61"/>
<rect x="479.14" y="121.25" width="9.00" height="1.50" fill="#1db4ba"/>
<rect x="479.14" y="124.25" width="9.00" height="1.50" fill="#1db4ba"/>
<rect x="479.14" y="136.25" width="9.00" height="1.50" fill="#f26a61"/>
<rect x="479.14" y="157.25" width="9.00" height="1.50" fill="#f26a61"/>
<rect x="479.14" y="159.25" width="9.00" height="1.50" fill="#f26a61"/>
<rect x="479.14" y="164.25" width="9.00" height="1.50" fill="#f26a61"/>
<rect x="479.14" y="167.25" width="9.00" height="1.50" fill="#1db4ba"/>
<rect x="479.14" y="172.25" width="9.00" height="1.50" fill="#f26a61"/>
<rect x="479.14" y="176.25" width="9.00" height="1.50" fill="#f26a61"/>
<rect x="479.14" y="179.25" width="9.00" height="1.50" fill="#1db4ba"/>
<rect x="479.14" y="183.25" width="9.00" height="1.50" fill="#f26a61"/>
<rect x="479.14" y="187.25" width="9.00" height="1.50" fill="#f26a61"/>
<rect x="479.14" y="191.25" width="9.00" height="1.50" fill="#1db4ba"/>
<rect x="479.14" y="194.25" width="9.00" height="1.50" fill="#f26a61"/>
<rect x="479.14" y="197.25" width="9.00" height="1.50" fill="#1db4ba"/>
<rect x="479.14" y="200.25" width="9.00" height="1.50" fill="#1db4ba"/>
<rect x="479.14" y="203.25" width="9.00" height="1.50" fill="#f26a61"/>
<rect x="479.14" y="207.25" width="9.00" height="1.50" fill="#1db4ba"/>
<rect x="479.14" y="210.25" width="9.00" height="1.50" fill="#f26a61"/>
<rect x="479.14" y="216.05" width="9.00" height="1.50" fill="#1db4ba"/>
<rect x="479.14" y="217.25" width="9.00" height="1.50" fill="#1db4ba"/>
<rect x="479.14" y="220.35" width="9.00" height="1.50" fill="#1db4ba"/>
<rect x="479.14" y="222.15" width="9.00" height="1.50" fill="#f26a61"/>
<rect x="479.14" y="225.85" width="9.00" height="1.50" fill="#f26a61"/>
<rect x="479.14" y="228.95" width="9.00" height="1.50" fill="#f26a61"/>
<rect x="479.14" y="231.95" width="9.00" height="1.50" fill="#1db4ba"/>
<rect x="479.14" y="234.45" width="9.00" height="1.50" fill="#f26a61"/>
<rect x="479.14" y="236.85" width="9.00" height="1.50" fill="#f26a61"/>
<rect x="479.14" y="240.55" width="9.00" height="1.50" fill="#1db4ba"/>
<rect x="479.14" y="242.35" width="9.00" height="1.50" fill="#f26a61"/>
<rect x="479.14" y="245.45" width="9.00" height="1.50" fill="#1db4ba"/>
<rect x="479.14" y="247.25" width="9.00" height="1.50" fill="#1db4ba"/>
<rect x="479.14" y="249.75" width="9.00" height="1.50" fill="#f26a61"/>
<rect x="479.14" y="251.55" width="9.00" height="1.50" fill="#1db4ba"/>
<rect x="479.14" y="255.85" width="9.00" height="1.50" fill="#1db4ba"/>
<rect x="479.14" y="260.05" width="9.00" height="1.50" fill="#f26a61"/>
<rect x="479.14" y="261.95" width="9.00" height="1.50" fill="#f26a61"/>
<rect x="479.14" y="265.55" width="9.00" height="1.50" fill="#1db4ba"/>
<rect x="479.14" y="268.05" width="9.00" height="1.50" fill="#1db4ba"/>
<rect x="479.14" y="274.65" width="9.00" height="1.50" fill="#f26a61"/>
<rect x="479.14" y="283.85" width="9.00" height="1.50" fill="#f26a61"/>
<rect x="479.14" y="286.25" width="9.00" height="1.50" fill="#1db4ba"/>
<rect x="479.14" y="288.65" width="9.00" height="1.50" fill="#1db4ba"/>
<rect x="479.14" y="291.15" width="9.00" height="1.50" fill="#1db4ba"/>
<rect x="479.14" y="293.55" width="9.00" height="1.50" fill="#f26a61"/>
<rect x="479.14" y="296.65" width="9.00" height="1.50" fill="#f26a61"/>
<rect x="479.14" y="298.45" width="9.00" height="1.50" fill="#1db4ba"/>
<rect x="479.14" y="301.55" width="9.00" height="1.50" fill="#f26a61"/>
<rect x="479.14" y="303.35" width="9.00" height="1.50" fill="#1db4ba"/>
<rect x="479.14" y="306.45" width="9.00" height="1.50" fill="#1db4ba"/>
<rect x="479.14" y="308.25" width="9.00" height="1.50" fill="#1db4ba"/>
<rect x="479.14" y="311.35" width="9.00" height="1.50" fill="#f26a61"/>
<rect x="479.14" y="313.75" width="9.00" height="1.50" fill="#1db4ba"/>
<text transform="translate(481.84,428.3) rotate(90)" text-anchor="end" font-size="7.5" fill="#333">chr5</text>
<rect x="491.93" y="39.40" width="8.00" height="284.20" fill="#fff" stroke="none"/>
<rect x="491.98" y="39.40" width="7.90" height="284.20" fill="none" stroke="#4a4a4a" stroke-width="1.1"/>
<rect x="491.43" y="46.45" width="9.00" height="1.50" fill="#1db4ba"/>
<rect x="491.43" y="53.75" width="9.00" height="1.50" fill="#1db4ba"/>
<rect x="491.43" y="55.55" width="9.00" height="1.50" fill="#1db4ba"/>
<rect x="491.43" y="56.85" width="9.00" height="1.50" fill="#f26a61"/>
<rect x="491.43" y="58.65" width="9.00" height="1.50" fill="#1db4ba"/>
<rect x="491.43" y="65.35" width="9.00" height="1.50" fill="#f26a61"/>
<rect x="491.43" y="66.55" width="9.00" height="1.50" fill="#f26a61"/>
<rect x="491.43" y="74.55" width="9.00" height="1.50" fill="#f26a61"/>
<rect x="491.43" y="78.85" width="9.00" height="1.50" fill="#1db4ba"/>
<rect x="491.43" y="84.35" width="9.00" height="1.50" fill="#f26a61"/>
<rect x="491.43" y="99.65" width="9.00" height="1.50" fill="#f26a61"/>
<rect x="491.43" y="103.95" width="9.00" height="1.50" fill="#1db4ba"/>
<rect x="491.43" y="105.15" width="9.00" height="1.50" fill="#1db4ba"/>
<rect x="491.43" y="113.65" width="9.00" height="1.50" fill="#f26a61"/>
<rect x="491.43" y="115.55" width="9.00" height="1.50" fill="#f26a61"/>
<rect x="491.43" y="118.55" width="9.00" height="1.50" fill="#1db4ba"/>
<rect x="491.43" y="120.45" width="9.00" height="1.50" fill="#f26a61"/>
<rect x="491.43" y="122.25" width="9.00" height="1.50" fill="#1db4ba"/>
<rect x="491.43" y="124.75" width="9.00" height="1.50" fill="#f26a61"/>
<rect x="491.43" y="127.15" width="9.00" height="1.50" fill="#f26a61"/>
<rect x="491.43" y="135.75" width="9.00" height="1.50" fill="#f26a61"/>
<rect x="491.43" y="138.15" width="9.00" height="1.50" fill="#1db4ba"/>
<rect x="491.43" y="144.95" width="9.00" height="1.50" fill="#1db4ba"/>
<rect x="491.43" y="146.75" width="9.00" height="1.50" fill="#1db4ba"/>
<rect x="491.43" y="153.45" width="9.00" height="1.50" fill="#f26a61"/>
<rect x="491.43" y="155.35" width="9.00" height="1.50" fill="#1db4ba"/>
<rect x="491.43" y="166.35" width="9.00" height="1.50" fill="#1db4ba"/>
<rect x="491.43" y="173.65" width="9.00" height="1.50" fill="#f26a61"/>
<rect x="491.43" y="178.55" width="9.00" height="1.50" fill="#f26a61"/>
<rect x="491.43" y="194.55" width="9.00" height="1.50" fill="#f26a61"/>
<rect x="491.43" y="196.05" width="9.00" height="1.50" fill="#1db4ba"/>
<rect x="491.43" y="200.15" width="9.00" height="1.50" fill="#1db4ba"/>
<rect x="491.43" y="211.55" width="9.00" height="1.50" fill="#f26a61"/>
<rect x="491.43" y="213.75" width="9.00" height="1.50" fill="#f26a61"/>
<rect x="491.43" y="214.85" width="9.00" height="1.50" fill="#f26a61"/>
<rect x="491.43" y="216.65" width="9.00" height="1.50" fill="#1db4ba"/>
<rect x="491.43" y="217.95" width="9.00" height="1.50" fill="#f26a61"/>
<rect x="491.43" y="219.75" width="9.00" height="1.50" fill="#1db4ba"/>
<rect x="491.43" y="220.95" width="9.00" height="1.50" fill="#1db4ba"/>
<rect x="491.43" y="222.25" width="9.00" height="1.50" fill="#1db4ba"/>
<rect x="491.43" y="224.65" width="9.00" height="1.50" fill="#f26a61"/>
<rect x="491.43" y="226.45" width="9.00" height="1.50" fill="#1db4ba"/>
<rect x="491.43" y="229.55" width="9.00" height="1.50" fill="#f26a61"/>
<rect x="491.43" y="231.35" width="9.00" height="1.50" fill="#1db4ba"/>
<rect x="491.43" y="234.45" width="9.00" height="1.50" fill="#1db4ba"/>
<rect x="491.43" y="236.85" width="9.00" height="1.50" fill="#1db4ba"/>
<rect x="491.43" y="238.65" width="9.00" height="1.50" fill="#f26a61"/>
<rect x="491.43" y="242.35" width="9.00" height="1.50" fill="#1db4ba"/>
<rect x="491.43" y="247.85" width="9.00" height="1.50" fill="#1db4ba"/>
<rect x="491.43" y="249.75" width="9.00" height="1.50" fill="#1db4ba"/>
<rect x="491.43" y="251.55" width="9.00" height="1.50" fill="#1db4ba"/>
<rect x="491.43" y="253.35" width="9.00" height="1.50" fill="#f26a61"/>
<rect x="491.43" y="256.45" width="9.00" height="1.50" fill="#f26a61"/>
<rect x="491.43" y="259.45" width="9.00" height="1.50" fill="#1db4ba"/>
<rect x="491.43" y="261.95" width="9.00" height="1.50" fill="#f26a61"/>
<rect x="491.43" y="263.75" width="9.00" height="1.50" fill="#f26a61"/>
<rect x="491.43" y="266.05" width="9.00" height="1.50" fill="#1db4ba"/>
<rect x="491.43" y="268.05" width="9.00" height="1.50" fill="#1db4ba"/>
<rect x="491.43" y="270.95" width="9.00" height="1.50" fill="#f26a61"/>
<rect x="491.43" y="274.05" width="9.00" height="1.50" fill="#f26a61"/>
<rect x="491.43" y="279.55" width="9.00" height="1.50" fill="#1db4ba"/>
<rect x="491.43" y="281.35" width="9.00" height="1.50" fill="#1db4ba"/>
<rect x="491.43" y="283.25" width="9.00" height="1.50" fill="#f26a61"/>
<rect x="491.43" y="285.65" width="9.00" height="1.50" fill="#f26a61"/>
<rect x="491.43" y="288.05" width="9.00" height="1.50" fill="#1db4ba"/>
<rect x="491.43" y="289.95" width="9.00" height="1.50" fill="#1db4ba"/>
<rect x="491.43" y="291.75" width="9.00" height="1.50" fill="#f26a61"/>
<rect x="491.43" y="294.85" width="9.00" height="1.50" fill="#f26a61"/>
<rect x="491.43" y="297.25" width="9.00" height="1.50" fill="#f26a61"/>
<rect x="491.43" y="303.35" width="9.00" height="1.50" fill="#1db4ba"/>
<rect x="491.43" y="306.45" width="9.00" height="1.50" fill="#1db4ba"/>
<rect x="491.43" y="308.85" width="9.00" height="1.50" fill="#1db4ba"/>
<rect x="491.43" y="311.95" width="9.00" height="1.50" fill="#f26a61"/>
<rect x="491.43" y="313.75" width="9.00" height="1.50" fill="#f26a61"/>
<rect x="491.43" y="315.75" width="9.00" height="1.50" fill="#f26a61"/>
<rect x="491.43" y="317.95" width="9.00" height="1.50" fill="#f26a61"/>
<rect x="491.43" y="320.35" width="9.00" height="1.50" fill="#f26a61"/>
<rect x="491.43" y="322.25" width="9.00" height="1.50" fill="#f26a61"/>
<text transform="translate(494.13,428.3) rotate(90)" text-anchor="end" font-size="7.5" fill="#333">chr4</text>
<rect x="504.22" y="39.40" width="8.00" height="290.90" fill="#fff" stroke="none"/>
<rect x="504.27" y="39.40" width="7.90" height="290.90" fill="none" stroke="#4a4a4a" stroke-width="1.1"/>
<rect x="503.72" y="52.55" width="9.00" height="1.50" fill="#f26a61"/>
<rect x="503.72" y="54.35" width="9.00" height="1.50" fill="#1db4ba"/>
<rect x="503.72" y="56.85" width="9.00" height="1.50" fill="#1db4ba"/>
<rect x="503.72" y="63.55" width="9.00" height="1.50" fill="#1db4ba"/>
<rect x="503.72" y="65.35" width="9.00" height="1.50" fill="#1db4ba"/>
<rect x="503.72" y="72.75" width="9.00" height="1.50" fill="#f26a61"/>
<rect x="503.72" y="74.55" width="9.00" height="1.50" fill="#f26a61"/>
<rect x="503.72" y="78.85" width="9.00" height="1.50" fill="#1db4ba"/>
<rect x="503.72" y="84.95" width="9.00" height="1.50" fill="#1db4ba"/>
<rect x="503.72" y="87.35" width="9.00" height="1.50" fill="#1db4ba"/>
<rect x="503.72" y="89.45" width="9.00" height="1.50" fill="#f26a61"/>
<rect x="503.72" y="91.05" width="9.00" height="1.50" fill="#1db4ba"/>
<rect x="503.72" y="97.85" width="9.00" height="1.50" fill="#1db4ba"/>
<rect x="503.72" y="99.65" width="9.00" height="1.50" fill="#f26a61"/>
<rect x="503.72" y="105.15" width="9.00" height="1.50" fill="#1db4ba"/>
<rect x="503.72" y="106.95" width="9.00" height="1.50" fill="#f26a61"/>
<rect x="503.72" y="113.05" width="9.00" height="1.50" fill="#f26a61"/>
<rect x="503.72" y="121.65" width="9.00" height="1.50" fill="#f26a61"/>
<rect x="503.72" y="136.35" width="9.00" height="1.50" fill="#f26a61"/>
<rect x="503.72" y="138.75" width="9.00" height="1.50" fill="#1db4ba"/>
<rect x="503.72" y="143.05" width="9.00" height="1.50" fill="#1db4ba"/>
<rect x="503.72" y="146.15" width="9.00" height="1.50" fill="#f26a61"/>
<rect x="503.72" y="154.05" width="9.00" height="1.50" fill="#f26a61"/>
<rect x="503.72" y="162.65" width="9.00" height="1.50" fill="#f26a61"/>
<rect x="503.72" y="163.85" width="9.00" height="1.50" fill="#f26a61"/>
<rect x="503.72" y="183.45" width="9.00" height="1.50" fill="#1db4ba"/>
<rect x="503.72" y="184.65" width="9.00" height="1.50" fill="#1db4ba"/>
<rect x="503.72" y="191.35" width="9.00" height="1.50" fill="#f26a61"/>
<rect x="503.72" y="192.25" width="9.00" height="1.50" fill="#1db4ba"/>
<rect x="503.72" y="193.85" width="9.00" height="1.50" fill="#f26a61"/>
<rect x="503.72" y="199.25" width="9.00" height="1.50" fill="#f26a61"/>
<rect x="503.72" y="201.05" width="9.00" height="1.50" fill="#1db4ba"/>
<rect x="503.72" y="203.75" width="9.00" height="1.50" fill="#1db4ba"/>
<rect x="503.72" y="206.95" width="9.00" height="1.50" fill="#1db4ba"/>
<rect x="503.72" y="208.75" width="9.00" height="1.50" fill="#1db4ba"/>
<rect x="503.72" y="211.05" width="9.00" height="1.50" fill="#f26a61"/>
<rect x="503.72" y="212.45" width="9.00" height="1.50" fill="#1db4ba"/>
<rect x="503.72" y="215.45" width="9.00" height="1.50" fill="#f26a61"/>
<rect x="503.72" y="216.65" width="9.00" height="1.50" fill="#f26a61"/>
<rect x="503.72" y="218.55" width="9.00" height="1.50" fill="#1db4ba"/>
<rect x="503.72" y="219.75" width="9.00" height="1.50" fill="#f26a61"/>
<rect x="503.72" y="222.15" width="9.00" height="1.50" fill="#1db4ba"/>
<rect x="503.72" y="225.85" width="9.00" height="1.50" fill="#f26a61"/>
<rect x="503.72" y="227.65" width="9.00" height="1.50" fill="#1db4ba"/>
<rect x="503.72" y="229.55" width="9.00" height="1.50" fill="#1db4ba"/>
<rect x="503.72" y="231.35" width="9.00" height="1.50" fill="#f26a61"/>
<rect x="503.72" y="233.85" width="9.00" height="1.50" fill="#1db4ba"/>
<rect x="503.72" y="235.65" width="9.00" height="1.50" fill="#f26a61"/>
<rect x="503.72" y="236.85" width="9.00" height="1.50" fill="#1db4ba"/>
<rect x="503.72" y="245.45" width="9.00" height="1.50" fill="#f26a61"/>
<rect x="503.72" y="249.75" width="9.00" height="1.50" fill="#f26a61"/>
<rect x="503.72" y="260.75" width="9.00" height="1.50" fill="#f26a61"/>
<rect x="503.72" y="262.55" width="9.00" height="1.50" fill="#1db4ba"/>
<rect x="503.72" y="263.75" width="9.00" height="1.50" fill="#f26a61"/>
<rect x="503.72" y="265.75" width="9.00" height="1.50" fill="#1db4ba"/>
<rect x="503.72" y="267.45" width="9.00" height="1.50" fill="#f26a61"/>
<rect x="503.72" y="268.55" width="9.00" height="1.50" fill="#1db4ba"/>
<rect x="503.72" y="271.55" width="9.00" height="1.50" fill="#f26a61"/>
<rect x="503.72" y="274.05" width="9.00" height="1.50" fill="#1db4ba"/>
<rect x="503.72" y="275.85" width="9.00" height="1.50" fill="#1db4ba"/>
<rect x="503.72" y="277.65" width="9.00" height="1.50" fill="#f26a61"/>
<rect x="503.72" y="284.45" width="9.00" height="1.50" fill="#1db4ba"/>
<rect x="503.72" y="286.25" width="9.00" height="1.50" fill="#1db4ba"/>
<rect x="503.72" y="289.95" width="9.00" height="1.50" fill="#f26a61"/>
<rect x="503.72" y="302.75" width="9.00" height="1.50" fill="#f26a61"/>
<rect x="503.72" y="304.55" width="9.00" height="1.50" fill="#f26a61"/>
<rect x="503.72" y="316.05" width="9.00" height="1.50" fill="#f26a61"/>
<rect x="503.72" y="318.75" width="9.00" height="1.50" fill="#1db4ba"/>
<rect x="503.72" y="328.95" width="9.00" height="1.50" fill="#1db4ba"/>
<text transform="translate(506.42,428.3) rotate(90)" text-anchor="end" font-size="7.5" fill="#333">chr3</text>
<rect x="516.51" y="39.40" width="8.00" height="331.30" fill="#fff" stroke="none"/>
<rect x="516.56" y="39.40" width="7.90" height="331.30" fill="none" stroke="#4a4a4a" stroke-width="1.1"/>
<rect x="516.01" y="44.55" width="9.00" height="1.50" fill="#1db4ba"/>
<rect x="516.01" y="45.85" width="9.00" height="1.50" fill="#1db4ba"/>
<rect x="516.01" y="48.25" width="9.00" height="1.50" fill="#1db4ba"/>
<rect x="516.01" y="61.05" width="9.00" height="1.50" fill="#f26a61"/>
<rect x="516.01" y="62.95" width="9.00" height="1.50" fill="#1db4ba"/>
<rect x="516.01" y="65.35" width="9.00" height="1.50" fill="#f26a61"/>
<rect x="516.01" y="69.65" width="9.00" height="1.50" fill="#f26a61"/>
<rect x="516.01" y="72.05" width="9.00" height="1.50" fill="#1db4ba"/>
<rect x="516.01" y="73.95" width="9.00" height="1.50" fill="#f26a61"/>
<rect x="516.01" y="76.95" width="9.00" height="1.50" fill="#1db4ba"/>
<rect x="516.01" y="78.85" width="9.00" height="1.50" fill="#f26a61"/>
<rect x="516.01" y="81.25" width="9.00" height="1.50" fill="#1db4ba"/>
<rect x="516.01" y="84.95" width="9.00" height="1.50" fill="#f26a61"/>
<rect x="516.01" y="87.35" width="9.00" height="1.50" fill="#f26a61"/>
<rect x="516.01" y="89.85" width="9.00" height="1.50" fill="#f26a61"/>
<rect x="516.01" y="91.05" width="9.00" height="1.50" fill="#1db4ba"/>
<rect x="516.01" y="94.15" width="9.00" height="1.50" fill="#f26a61"/>
<rect x="516.01" y="96.55" width="9.00" height="1.50" fill="#f26a61"/>
<rect x="516.01" y="99.05" width="9.00" height="1.50" fill="#f26a61"/>
<rect x="516.01" y="102.05" width="9.00" height="1.50" fill="#1db4ba"/>
<rect x="516.01" y="104.55" width="9.00" height="1.50" fill="#1db4ba"/>
<rect x="516.01" y="107.55" width="9.00" height="1.50" fill="#1db4ba"/>
<rect x="516.01" y="114.95" width="9.00" height="1.50" fill="#1db4ba"/>
<rect x="516.01" y="133.85" width="9.00" height="1.50" fill="#f26a61"/>
<rect x="516.01" y="143.05" width="9.00" height="1.50" fill="#1db4ba"/>
<rect x="516.01" y="144.95" width="9.00" height="1.50" fill="#f26a61"/>
<rect x="516.01" y="149.85" width="9.00" height="1.50" fill="#f26a61"/>
<rect x="516.01" y="153.45" width="9.00" height="1.50" fill="#f26a61"/>
<rect x="516.01" y="155.95" width="9.00" height="1.50" fill="#1db4ba"/>
<rect x="516.01" y="157.75" width="9.00" height="1.50" fill="#1db4ba"/>
<rect x="516.01" y="160.15" width="9.00" height="1.50" fill="#1db4ba"/>
<rect x="516.01" y="162.65" width="9.00" height="1.50" fill="#1db4ba"/>
<rect x="516.01" y="163.85" width="9.00" height="1.50" fill="#1db4ba"/>
<rect x="516.01" y="168.75" width="9.00" height="1.50" fill="#1db4ba"/>
<rect x="516.01" y="169.95" width="9.00" height="1.50" fill="#f26a61"/>
<rect x="516.01" y="172.45" width="9.00" height="1.50" fill="#f26a61"/>
<rect x="516.01" y="176.75" width="9.00" height="1.50" fill="#1db4ba"/>
<rect x="516.01" y="179.15" width="9.00" height="1.50" fill="#f26a61"/>
<rect x="516.01" y="182.85" width="9.00" height="1.50" fill="#f26a61"/>
<rect x="516.01" y="186.45" width="9.00" height="1.50" fill="#f26a61"/>
<rect x="516.01" y="191.15" width="9.00" height="1.50" fill="#1db4ba"/>
<rect x="516.01" y="193.25" width="9.00" height="1.50" fill="#f26a61"/>
<rect x="516.01" y="205.15" width="9.00" height="1.50" fill="#f26a61"/>
<rect x="516.01" y="206.55" width="9.00" height="1.50" fill="#f26a61"/>
<rect x="516.01" y="207.85" width="9.00" height="1.50" fill="#1db4ba"/>
<rect x="516.01" y="209.25" width="9.00" height="1.50" fill="#f26a61"/>
<rect x="516.01" y="224.05" width="9.00" height="1.50" fill="#1db4ba"/>
<rect x="516.01" y="227.05" width="9.00" height="1.50" fill="#f26a61"/>
<rect x="516.01" y="237.45" width="9.00" height="1.50" fill="#1db4ba"/>
<rect x="516.01" y="243.55" width="9.00" height="1.50" fill="#f26a61"/>
<rect x="516.01" y="244.85" width="9.00" height="1.50" fill="#f26a61"/>
<rect x="516.01" y="246.05" width="9.00" height="1.50" fill="#1db4ba"/>
<rect x="516.01" y="253.35" width="9.00" height="1.50" fill="#f26a61"/>
<rect x="516.01" y="255.85" width="9.00" height="1.50" fill="#1db4ba"/>
<rect x="516.01" y="257.65" width="9.00" height="1.50" fill="#f26a61"/>
<rect x="516.01" y="260.05" width="9.00" height="1.50" fill="#f26a61"/>
<rect x="516.01" y="264.55" width="9.00" height="1.50" fill="#1db4ba"/>
<rect x="516.01" y="266.45" width="9.00" height="1.50" fill="#1db4ba"/>
<rect x="516.01" y="269.15" width="9.00" height="1.50" fill="#1db4ba"/>
<rect x="516.01" y="271.55" width="9.00" height="1.50" fill="#f26a61"/>
<rect x="516.01" y="274.05" width="9.00" height="1.50" fill="#f26a61"/>
<rect x="516.01" y="276.45" width="9.00" height="1.50" fill="#1db4ba"/>
<rect x="516.01" y="278.25" width="9.00" height="1.50" fill="#1db4ba"/>
<rect x="516.01" y="280.15" width="9.00" height="1.50" fill="#1db4ba"/>
<rect x="516.01" y="283.25" width="9.00" height="1.50" fill="#1db4ba"/>
<rect x="516.01" y="303.35" width="9.00" height="1.50" fill="#f26a61"/>
<rect x="516.01" y="308.25" width="9.00" height="1.50" fill="#f26a61"/>
<rect x="516.01" y="310.75" width="9.00" height="1.50" fill="#1db4ba"/>
<rect x="516.01" y="313.15" width="9.00" height="1.50" fill="#f26a61"/>
<rect x="516.01" y="315.55" width="9.00" height="1.50" fill="#1db4ba"/>
<rect x="516.01" y="317.45" width="9.00" height="1.50" fill="#f26a61"/>
<rect x="516.01" y="319.75" width="9.00" height="1.50" fill="#1db4ba"/>
<rect x="516.01" y="322.85" width="9.00" height="1.50" fill="#f26a61"/>
<rect x="516.01" y="324.65" width="9.00" height="1.50" fill="#1db4ba"/>
<rect x="516.01" y="326.45" width="9.00" height="1.50" fill="#f26a61"/>
<rect x="516.01" y="328.95" width="9.00" height="1.50" fill="#1db4ba"/>
<rect x="516.01" y="331.35" width="9.00" height="1.50" fill="#f26a61"/>
<rect x="516.01" y="336.85" width="9.00" height="1.50" fill="#1db4ba"/>
<rect x="516.01" y="343.55" width="9.00" height="1.50" fill="#f26a61"/>
<rect x="516.01" y="345.25" width="9.00" height="1.50" fill="#f26a61"/>
<rect x="516.01" y="351.75" width="9.00" height="1.50" fill="#1db4ba"/>
<rect x="516.01" y="353.45" width="9.00" height="1.50" fill="#1db4ba"/>
<rect x="516.01" y="366.85" width="9.00" height="1.50" fill="#f26a61"/>
<rect x="516.01" y="369.25" width="9.00" height="1.50" fill="#f26a61"/>
<text transform="translate(518.71,428.3) rotate(90)" text-anchor="end" font-size="7.5" fill="#333">chr2</text>
<rect x="528.80" y="39.40" width="8.00" height="352.40" fill="#fff" stroke="none"/>
<rect x="528.85" y="39.40" width="7.90" height="352.40" fill="none" stroke="#4a4a4a" stroke-width="1.1"/>
<rect x="528.30" y="47.65" width="9.00" height="1.50" fill="#1db4ba"/>
<rect x="528.30" y="50.05" width="9.00" height="1.50" fill="#1db4ba"/>
<rect x="528.30" y="51.35" width="9.00" height="1.50" fill="#1db4ba"/>
<rect x="528.30" y="54.35" width="9.00" height="1.50" fill="#1db4ba"/>
<rect x="528.30" y="55.55" width="9.00" height="1.50" fill="#1db4ba"/>
<rect x="528.30" y="62.35" width="9.00" height="1.50" fill="#f26a61"/>
<rect x="528.30" y="69.65" width="9.00" height="1.50" fill="#f26a61"/>
<rect x="528.30" y="72.05" width="9.00" height="1.50" fill="#1db4ba"/>
<rect x="528.30" y="74.55" width="9.00" height="1.50" fill="#f26a61"/>
<rect x="528.30" y="78.85" width="9.00" height="1.50" fill="#1db4ba"/>
<rect x="528.30" y="82.45" width="9.00" height="1.50" fill="#f26a61"/>
<rect x="528.30" y="90.75" width="9.00" height="1.50" fill="#1db4ba"/>
<rect x="528.30" y="100.25" width="9.00" height="1.50" fill="#1db4ba"/>
<rect x="528.30" y="106.35" width="9.00" height="1.50" fill="#f26a61"/>
<rect x="528.30" y="107.55" width="9.00" height="1.50" fill="#f26a61"/>
<rect x="528.30" y="109.45" width="9.00" height="1.50" fill="#1db4ba"/>
<rect x="528.30" y="111.85" width="9.00" height="1.50" fill="#1db4ba"/>
<rect x="528.30" y="113.65" width="9.00" height="1.50" fill="#f26a61"/>
<rect x="528.30" y="121.65" width="9.00" height="1.50" fill="#1db4ba"/>
<rect x="528.30" y="135.05" width="9.00" height="1.50" fill="#1db4ba"/>
<rect x="528.30" y="136.95" width="9.00" height="1.50" fill="#f26a61"/>
<rect x="528.30" y="139.35" width="9.00" height="1.50" fill="#1db4ba"/>
<rect x="528.30" y="143.65" width="9.00" height="1.50" fill="#1db4ba"/>
<rect x="528.30" y="145.55" width="9.00" height="1.50" fill="#1db4ba"/>
<rect x="528.30" y="154.05" width="9.00" height="1.50" fill="#f26a61"/>
<rect x="528.30" y="156.55" width="9.00" height="1.50" fill="#1db4ba"/>
<rect x="528.30" y="160.25" width="9.00" height="1.50" fill="#f26a61"/>
<rect x="528.30" y="168.15" width="9.00" height="1.50" fill="#1db4ba"/>
<rect x="528.30" y="169.95" width="9.00" height="1.50" fill="#f26a61"/>
<rect x="528.30" y="171.25" width="9.00" height="1.50" fill="#1db4ba"/>
<rect x="528.30" y="173.65" width="9.00" height="1.50" fill="#f26a61"/>
<rect x="528.30" y="175.45" width="9.00" height="1.50" fill="#f26a61"/>
<rect x="528.30" y="181.55" width="9.00" height="1.50" fill="#f26a61"/>
<rect x="528.30" y="183.45" width="9.00" height="1.50" fill="#1db4ba"/>
<rect x="528.30" y="185.85" width="9.00" height="1.50" fill="#f26a61"/>
<rect x="528.30" y="194.45" width="9.00" height="1.50" fill="#1db4ba"/>
<rect x="528.30" y="195.65" width="9.00" height="1.50" fill="#f26a61"/>
<rect x="528.30" y="197.45" width="9.00" height="1.50" fill="#1db4ba"/>
<rect x="528.30" y="199.25" width="9.00" height="1.50" fill="#1db4ba"/>
<rect x="528.30" y="204.25" width="9.00" height="1.50" fill="#f26a61"/>
<rect x="528.30" y="206.05" width="9.00" height="1.50" fill="#1db4ba"/>
<rect x="528.30" y="208.75" width="9.00" height="1.50" fill="#1db4ba"/>
<rect x="528.30" y="212.45" width="9.00" height="1.50" fill="#f26a61"/>
<rect x="528.30" y="218.55" width="9.00" height="1.50" fill="#f26a61"/>
<rect x="528.30" y="234.45" width="9.00" height="1.50" fill="#1db4ba"/>
<rect x="528.30" y="257.05" width="9.00" height="1.50" fill="#f26a61"/>
<rect x="528.30" y="260.05" width="9.00" height="1.50" fill="#1db4ba"/>
<rect x="528.30" y="268.05" width="9.00" height="1.50" fill="#f26a61"/>
<rect x="528.30" y="269.75" width="9.00" height="1.50" fill="#f26a61"/>
<rect x="528.30" y="271.25" width="9.00" height="1.50" fill="#f26a61"/>
<rect x="528.30" y="274.05" width="9.00" height="1.50" fill="#f26a61"/>
<rect x="528.30" y="275.85" width="9.00" height="1.50" fill="#f26a61"/>
<rect x="528.30" y="278.95" width="9.00" height="1.50" fill="#1db4ba"/>
<rect x="528.30" y="281.35" width="9.00" height="1.50" fill="#f26a61"/>
<rect x="528.30" y="283.85" width="9.00" height="1.50" fill="#1db4ba"/>
<rect x="528.30" y="286.25" width="9.00" height="1.50" fill="#f26a61"/>
<rect x="528.30" y="291.75" width="9.00" height="1.50" fill="#1db4ba"/>
<rect x="528.30" y="300.35" width="9.00" height="1.50" fill="#f26a61"/>
<rect x="528.30" y="311.95" width="9.00" height="1.50" fill="#1db4ba"/>
<rect x="528.30" y="313.15" width="9.00" height="1.50" fill="#1db4ba"/>
<rect x="528.30" y="315.55" width="9.00" height="1.50" fill="#f26a61"/>
<rect x="528.30" y="316.65" width="9.00" height="1.50" fill="#1db4ba"/>
<rect x="528.30" y="318.25" width="9.00" height="1.50" fill="#f26a61"/>
<rect x="528.30" y="320.05" width="9.00" height="1.50" fill="#f26a61"/>
<rect x="528.30" y="322.85" width="9.00" height="1.50" fill="#f26a61"/>
<rect x="528.30" y="325.25" width="9.00" height="1.50" fill="#1db4ba"/>
<rect x="528.30" y="327.05" width="9.00" height="1.50" fill="#f26a61"/>
<rect x="528.30" y="329.55" width="9.00" height="1.50" fill="#f26a61"/>
<rect x="528.30" y="331.95" width="9.00" height="1.50" fill="#1db4ba"/>
<rect x="528.30" y="334.45" width="9.00" height="1.50" fill="#f26a61"/>
<rect x="528.30" y="336.85" width="9.00" height="1.50" fill="#f26a61"/>
<rect x="528.30" y="338.65" width="9.00" height="1.50" fill="#1db4ba"/>
<rect x="528.30" y="342.35" width="9.00" height="1.50" fill="#1db4ba"/>
<rect x="528.30" y="344.75" width="9.00" height="1.50" fill="#1db4ba"/>
<rect x="528.30" y="347.05" width="9.00" height="1.50" fill="#f26a61"/>
<rect x="528.30" y="350.35" width="9.00" height="1.50" fill="#f26a61"/>
<rect x="528.30" y="353.05" width="9.00" height="1.50" fill="#1db4ba"/>
<rect x="528.30" y="356.75" width="9.00" height="1.50" fill="#1db4ba"/>
<rect x="528.30" y="358.85" width="9.00" height="1.50" fill="#1db4ba"/>
<rect x="528.30" y="364.35" width="9.00" height="1.50" fill="#f26a61"/>
<rect x="528.30" y="366.55" width="9.00" height="1.50" fill="#f26a61"/>
<rect x="528.30" y="368.65" width="9.00" height="1.50" fill="#1db4ba"/>
<rect x="528.30" y="379.05" width="9.00" height="1.50" fill="#f26a61"/>
<rect x="528.30" y="380.95" width="9.00" height="1.50" fill="#f26a61"/>
<rect x="528.30" y="383.35" width="9.00" height="1.50" fill="#1db4ba"/>
<rect x="528.30" y="386.45" width="9.00" height="1.50" fill="#1db4ba"/>
<rect x="528.30" y="387.65" width="9.00" height="1.50" fill="#1db4ba"/>
<rect x="528.30" y="390.05" width="9.00" height="1.50" fill="#f26a61"/>
<text transform="translate(531.00,428.3) rotate(90)" text-anchor="end" font-size="7.5" fill="#333">chr1</text>
<text transform="translate(275.0,41.40) rotate(90)" text-anchor="middle" font-size="7.4" fill="#444">0 Mb</text>
<text transform="translate(275.0,132.62) rotate(90)" text-anchor="middle" font-size="7.4" fill="#444">50 Mb</text>
<text transform="translate(275.0,223.85) rotate(90)" text-anchor="middle" font-size="7.4" fill="#444">100 Mb</text>
<text transform="translate(275.0,315.07) rotate(90)" text-anchor="middle" font-size="7.4" fill="#444">150 Mb</text>
<text transform="translate(275.0,406.30) rotate(90)" text-anchor="middle" font-size="7.4" fill="#444">200 Mb</text>
<rect x="351.6" y="353.6" width="14.6" height="26.2" fill="#fff" opacity="0.75"/>
<rect x="353.9" y="356.7" width="10.5" height="10" fill="#f26a61"/>
<rect x="353.9" y="366.7" width="10.5" height="10.2" fill="#1db4ba"/>
<text x="367.6" y="364.3" font-size="7.2" fill="#333">up</text>
<text x="367.6" y="374.3" font-size="7.2" fill="#333">down</text>
</svg></body></html>
